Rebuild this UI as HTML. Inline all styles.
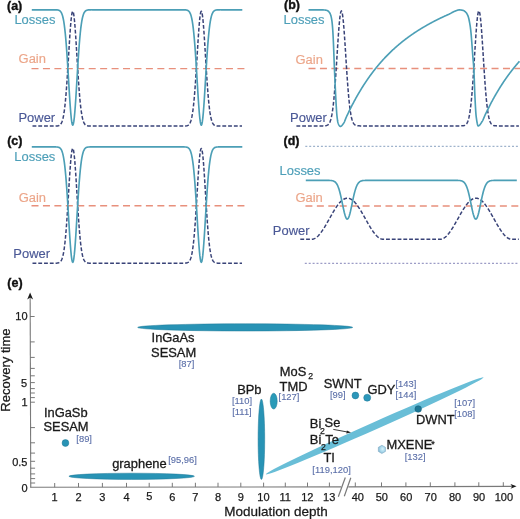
<!DOCTYPE html>
<html><head><meta charset="utf-8"><title>Figure</title>
<style>html,body{margin:0;padding:0;background:#fff;}svg{display:block;}</style>
</head><body>
<svg width="520" height="519" viewBox="0 0 520 519">
<rect width="520" height="519" fill="#fff"/>
<g fill="none" stroke-linejoin="round">
<line x1="31.5" y1="68.6" x2="244.6" y2="68.6" stroke="#e8907c" stroke-width="1.35" stroke-dasharray="7 4.44"/>
<line x1="31.5" y1="205.7" x2="244.6" y2="205.7" stroke="#e8907c" stroke-width="1.35" stroke-dasharray="7 4.44"/>
<line x1="308.5" y1="68.5" x2="520.0" y2="68.5" stroke="#e8907c" stroke-width="1.35" stroke-dasharray="7 4.44"/>
<line x1="305.4" y1="206.0" x2="520.0" y2="206.0" stroke="#e8907c" stroke-width="1.35" stroke-dasharray="7 4.44"/>
<path d="M32.50,126.10 L33.00,126.10 L33.50,126.10 L34.00,126.10 L34.50,126.10 L35.00,126.10 L35.50,126.10 L36.00,126.10 L36.50,126.10 L37.00,126.10 L37.50,126.10 L38.00,126.10 L38.50,126.10 L39.00,126.10 L39.50,126.10 L40.00,126.10 L40.50,126.10 L41.00,126.10 L41.50,126.10 L42.00,126.10 L42.50,126.10 L43.00,126.10 L43.50,126.10 L44.00,126.10 L44.50,126.10 L45.00,126.10 L45.50,126.10 L46.00,126.10 L46.50,126.10 L47.00,126.10 L47.50,126.10 L48.00,126.10 L48.50,126.10 L49.00,126.10 L49.50,126.10 L50.00,126.10 L50.50,126.10 L51.00,126.10 L51.50,126.10 L52.00,126.10 L52.50,126.10 L53.00,126.10 L53.50,126.10 L54.00,126.09 L54.50,126.09 L55.00,126.08 L55.50,126.08 L56.00,126.06 L56.50,126.04 L57.00,126.00 L57.50,125.94 L58.00,125.86 L58.50,125.74 L59.00,125.56 L59.50,125.31 L60.00,124.95 L60.50,124.47 L61.00,123.81 L61.50,122.92 L62.00,121.76 L62.50,120.25 L63.00,118.34 L63.50,115.94 L64.00,112.98 L64.50,109.41 L65.00,105.16 L65.50,100.20 L66.00,94.52 L66.50,88.13 L67.00,81.09 L67.50,73.49 L68.00,65.49 L68.50,57.24 L69.00,48.97 L69.50,40.93 L70.00,33.37 L70.50,26.56 L71.00,20.75 L71.50,16.18 L72.00,13.02 L72.50,11.40 L73.00,11.40 L73.50,13.02 L74.00,16.18 L74.50,20.75 L75.00,26.56 L75.50,33.37 L76.00,40.93 L76.50,48.97 L77.00,57.24 L77.50,65.49 L78.00,73.49 L78.50,81.09 L79.00,88.13 L79.50,94.52 L80.00,100.20 L80.50,105.16 L81.00,109.41 L81.50,112.98 L82.00,115.94 L82.50,118.34 L83.00,120.25 L83.50,121.76 L84.00,122.92 L84.50,123.81 L85.00,124.47 L85.50,124.95 L86.00,125.31 L86.50,125.56 L87.00,125.74 L87.50,125.86 L88.00,125.94 L88.50,126.00 L89.00,126.04 L89.50,126.06 L90.00,126.08 L90.50,126.08 L91.00,126.09 L91.50,126.09 L92.00,126.10 L92.50,126.10 L93.00,126.10 L93.50,126.10 L94.00,126.10 L94.50,126.10 L95.00,126.10 L95.50,126.10 L96.00,126.10 L96.50,126.10 L97.00,126.10 L97.50,126.10 L98.00,126.10 L98.50,126.10 L99.00,126.10 L99.50,126.10 L100.00,126.10 L100.50,126.10 L101.00,126.10 L101.50,126.10 L102.00,126.10 L102.50,126.10 L103.00,126.10 L103.50,126.10 L104.00,126.10 L104.50,126.10 L105.00,126.10 L105.50,126.10 L106.00,126.10 L106.50,126.10 L107.00,126.10 L107.50,126.10 L108.00,126.10 L108.50,126.10 L109.00,126.10 L109.50,126.10 L110.00,126.10 L110.50,126.10 L111.00,126.10 L111.50,126.10 L112.00,126.10 L112.50,126.10 L113.00,126.10 L113.50,126.10 L114.00,126.10 L114.50,126.10 L115.00,126.10 L115.50,126.10 L116.00,126.10 L116.50,126.10 L117.00,126.10 L117.50,126.10 L118.00,126.10 L118.50,126.10 L119.00,126.10 L119.50,126.10 L120.00,126.10 L120.50,126.10 L121.00,126.10 L121.50,126.10 L122.00,126.10 L122.50,126.10 L123.00,126.10 L123.50,126.10 L124.00,126.10 L124.50,126.10 L125.00,126.10 L125.50,126.10 L126.00,126.10 L126.50,126.10 L127.00,126.10 L127.50,126.10 L128.00,126.10 L128.50,126.10 L129.00,126.10 L129.50,126.10 L130.00,126.10 L130.50,126.10 L131.00,126.10 L131.50,126.10 L132.00,126.10 L132.50,126.10 L133.00,126.10 L133.50,126.10 L134.00,126.10 L134.50,126.10 L135.00,126.10 L135.50,126.10 L136.00,126.10 L136.50,126.10 L137.00,126.10 L137.50,126.10 L138.00,126.10 L138.50,126.10 L139.00,126.10 L139.50,126.10 L140.00,126.10 L140.50,126.10 L141.00,126.10 L141.50,126.10 L142.00,126.10 L142.50,126.10 L143.00,126.10 L143.50,126.10 L144.00,126.10 L144.50,126.10 L145.00,126.10 L145.50,126.10 L146.00,126.10 L146.50,126.10 L147.00,126.10 L147.50,126.10 L148.00,126.10 L148.50,126.10 L149.00,126.10 L149.50,126.10 L150.00,126.10 L150.50,126.10 L151.00,126.10 L151.50,126.10 L152.00,126.10 L152.50,126.10 L153.00,126.10 L153.50,126.10 L154.00,126.10 L154.50,126.10 L155.00,126.10 L155.50,126.10 L156.00,126.10 L156.50,126.10 L157.00,126.10 L157.50,126.10 L158.00,126.10 L158.50,126.10 L159.00,126.10 L159.50,126.10 L160.00,126.10 L160.50,126.10 L161.00,126.10 L161.50,126.10 L162.00,126.10 L162.50,126.10 L163.00,126.10 L163.50,126.10 L164.00,126.10 L164.50,126.10 L165.00,126.10 L165.50,126.10 L166.00,126.10 L166.50,126.10 L167.00,126.10 L167.50,126.10 L168.00,126.10 L168.50,126.10 L169.00,126.10 L169.50,126.10 L170.00,126.10 L170.50,126.10 L171.00,126.10 L171.50,126.10 L172.00,126.10 L172.50,126.10 L173.00,126.10 L173.50,126.10 L174.00,126.10 L174.50,126.10 L175.00,126.10 L175.50,126.10 L176.00,126.10 L176.50,126.10 L177.00,126.10 L177.50,126.10 L178.00,126.10 L178.50,126.10 L179.00,126.10 L179.50,126.10 L180.00,126.10 L180.50,126.10 L181.00,126.10 L181.50,126.10 L182.00,126.10 L182.50,126.09 L183.00,126.09 L183.50,126.09 L184.00,126.08 L184.50,126.06 L185.00,126.04 L185.50,126.00 L186.00,125.95 L186.50,125.87 L187.00,125.75 L187.50,125.58 L188.00,125.34 L188.50,124.99 L189.00,124.52 L189.50,123.88 L190.00,123.02 L190.50,121.89 L191.00,120.42 L191.50,118.55 L192.00,116.20 L192.50,113.31 L193.00,109.80 L193.50,105.62 L194.00,100.73 L194.50,95.12 L195.00,88.80 L195.50,81.82 L196.00,74.28 L196.50,66.30 L197.00,58.07 L197.50,49.79 L198.00,41.72 L198.50,34.10 L199.00,27.20 L199.50,21.28 L200.00,16.57 L200.50,13.27 L201.00,11.49 L201.50,11.33 L202.00,12.78 L202.50,15.80 L203.00,20.24 L203.50,25.93 L204.00,32.65 L204.50,40.15 L205.00,48.15 L205.50,56.41 L206.00,64.67 L206.50,72.71 L207.00,80.35 L207.50,87.45 L208.00,93.91 L208.50,99.67 L209.00,104.70 L209.50,109.02 L210.00,112.65 L210.50,115.67 L211.00,118.12 L211.50,120.08 L212.00,121.62 L212.50,122.82 L213.00,123.73 L213.50,124.41 L214.00,124.91 L214.50,125.28 L215.00,125.54 L215.50,125.72 L216.00,125.85 L216.50,125.94 L217.00,125.99 L217.50,126.03 L218.00,126.06 L218.50,126.07 L219.00,126.08 L219.50,126.09 L220.00,126.09 L220.50,126.10 L221.00,126.10 L221.50,126.10 L222.00,126.10 L222.50,126.10 L223.00,126.10 L223.50,126.10 L224.00,126.10 L224.50,126.10 L225.00,126.10 L225.50,126.10 L226.00,126.10 L226.50,126.10 L227.00,126.10 L227.50,126.10 L228.00,126.10 L228.50,126.10 L229.00,126.10 L229.50,126.10 L230.00,126.10 L230.50,126.10 L231.00,126.10 L231.50,126.10 L232.00,126.10 L232.50,126.10 L233.00,126.10 L233.50,126.10 L234.00,126.10 L234.50,126.10 L235.00,126.10 L235.50,126.10 L236.00,126.10 L236.50,126.10 L237.00,126.10 L237.50,126.10 L238.00,126.10 L238.50,126.10 L239.00,126.10 L239.50,126.10 L240.00,126.10 L240.50,126.10 L241.00,126.10 L241.50,126.10 L242.00,126.10" stroke="#394378" stroke-width="1.5" stroke-dasharray="3.85 1.92"/>
<path d="M32.50,263.20 L33.00,263.20 L33.50,263.20 L34.00,263.20 L34.50,263.20 L35.00,263.20 L35.50,263.20 L36.00,263.20 L36.50,263.20 L37.00,263.20 L37.50,263.20 L38.00,263.20 L38.50,263.20 L39.00,263.20 L39.50,263.20 L40.00,263.20 L40.50,263.20 L41.00,263.20 L41.50,263.20 L42.00,263.20 L42.50,263.20 L43.00,263.20 L43.50,263.20 L44.00,263.20 L44.50,263.20 L45.00,263.20 L45.50,263.20 L46.00,263.20 L46.50,263.20 L47.00,263.20 L47.50,263.20 L48.00,263.20 L48.50,263.20 L49.00,263.20 L49.50,263.20 L50.00,263.20 L50.50,263.20 L51.00,263.20 L51.50,263.20 L52.00,263.20 L52.50,263.20 L53.00,263.20 L53.50,263.20 L54.00,263.19 L54.50,263.19 L55.00,263.18 L55.50,263.18 L56.00,263.16 L56.50,263.14 L57.00,263.10 L57.50,263.04 L58.00,262.96 L58.50,262.84 L59.00,262.66 L59.50,262.41 L60.00,262.05 L60.50,261.57 L61.00,260.91 L61.50,260.02 L62.00,258.86 L62.50,257.35 L63.00,255.44 L63.50,253.04 L64.00,250.08 L64.50,246.51 L65.00,242.26 L65.50,237.30 L66.00,231.62 L66.50,225.23 L67.00,218.19 L67.50,210.59 L68.00,202.59 L68.50,194.34 L69.00,186.07 L69.50,178.03 L70.00,170.47 L70.50,163.66 L71.00,157.85 L71.50,153.28 L72.00,150.12 L72.50,148.50 L73.00,148.50 L73.50,150.12 L74.00,153.28 L74.50,157.85 L75.00,163.66 L75.50,170.47 L76.00,178.03 L76.50,186.07 L77.00,194.34 L77.50,202.59 L78.00,210.59 L78.50,218.19 L79.00,225.23 L79.50,231.62 L80.00,237.30 L80.50,242.26 L81.00,246.51 L81.50,250.08 L82.00,253.04 L82.50,255.44 L83.00,257.35 L83.50,258.86 L84.00,260.02 L84.50,260.91 L85.00,261.57 L85.50,262.05 L86.00,262.41 L86.50,262.66 L87.00,262.84 L87.50,262.96 L88.00,263.04 L88.50,263.10 L89.00,263.14 L89.50,263.16 L90.00,263.18 L90.50,263.18 L91.00,263.19 L91.50,263.19 L92.00,263.20 L92.50,263.20 L93.00,263.20 L93.50,263.20 L94.00,263.20 L94.50,263.20 L95.00,263.20 L95.50,263.20 L96.00,263.20 L96.50,263.20 L97.00,263.20 L97.50,263.20 L98.00,263.20 L98.50,263.20 L99.00,263.20 L99.50,263.20 L100.00,263.20 L100.50,263.20 L101.00,263.20 L101.50,263.20 L102.00,263.20 L102.50,263.20 L103.00,263.20 L103.50,263.20 L104.00,263.20 L104.50,263.20 L105.00,263.20 L105.50,263.20 L106.00,263.20 L106.50,263.20 L107.00,263.20 L107.50,263.20 L108.00,263.20 L108.50,263.20 L109.00,263.20 L109.50,263.20 L110.00,263.20 L110.50,263.20 L111.00,263.20 L111.50,263.20 L112.00,263.20 L112.50,263.20 L113.00,263.20 L113.50,263.20 L114.00,263.20 L114.50,263.20 L115.00,263.20 L115.50,263.20 L116.00,263.20 L116.50,263.20 L117.00,263.20 L117.50,263.20 L118.00,263.20 L118.50,263.20 L119.00,263.20 L119.50,263.20 L120.00,263.20 L120.50,263.20 L121.00,263.20 L121.50,263.20 L122.00,263.20 L122.50,263.20 L123.00,263.20 L123.50,263.20 L124.00,263.20 L124.50,263.20 L125.00,263.20 L125.50,263.20 L126.00,263.20 L126.50,263.20 L127.00,263.20 L127.50,263.20 L128.00,263.20 L128.50,263.20 L129.00,263.20 L129.50,263.20 L130.00,263.20 L130.50,263.20 L131.00,263.20 L131.50,263.20 L132.00,263.20 L132.50,263.20 L133.00,263.20 L133.50,263.20 L134.00,263.20 L134.50,263.20 L135.00,263.20 L135.50,263.20 L136.00,263.20 L136.50,263.20 L137.00,263.20 L137.50,263.20 L138.00,263.20 L138.50,263.20 L139.00,263.20 L139.50,263.20 L140.00,263.20 L140.50,263.20 L141.00,263.20 L141.50,263.20 L142.00,263.20 L142.50,263.20 L143.00,263.20 L143.50,263.20 L144.00,263.20 L144.50,263.20 L145.00,263.20 L145.50,263.20 L146.00,263.20 L146.50,263.20 L147.00,263.20 L147.50,263.20 L148.00,263.20 L148.50,263.20 L149.00,263.20 L149.50,263.20 L150.00,263.20 L150.50,263.20 L151.00,263.20 L151.50,263.20 L152.00,263.20 L152.50,263.20 L153.00,263.20 L153.50,263.20 L154.00,263.20 L154.50,263.20 L155.00,263.20 L155.50,263.20 L156.00,263.20 L156.50,263.20 L157.00,263.20 L157.50,263.20 L158.00,263.20 L158.50,263.20 L159.00,263.20 L159.50,263.20 L160.00,263.20 L160.50,263.20 L161.00,263.20 L161.50,263.20 L162.00,263.20 L162.50,263.20 L163.00,263.20 L163.50,263.20 L164.00,263.20 L164.50,263.20 L165.00,263.20 L165.50,263.20 L166.00,263.20 L166.50,263.20 L167.00,263.20 L167.50,263.20 L168.00,263.20 L168.50,263.20 L169.00,263.20 L169.50,263.20 L170.00,263.20 L170.50,263.20 L171.00,263.20 L171.50,263.20 L172.00,263.20 L172.50,263.20 L173.00,263.20 L173.50,263.20 L174.00,263.20 L174.50,263.20 L175.00,263.20 L175.50,263.20 L176.00,263.20 L176.50,263.20 L177.00,263.20 L177.50,263.20 L178.00,263.20 L178.50,263.20 L179.00,263.20 L179.50,263.20 L180.00,263.20 L180.50,263.20 L181.00,263.20 L181.50,263.20 L182.00,263.20 L182.50,263.19 L183.00,263.19 L183.50,263.19 L184.00,263.18 L184.50,263.16 L185.00,263.14 L185.50,263.10 L186.00,263.05 L186.50,262.97 L187.00,262.85 L187.50,262.68 L188.00,262.44 L188.50,262.09 L189.00,261.62 L189.50,260.98 L190.00,260.12 L190.50,258.99 L191.00,257.52 L191.50,255.65 L192.00,253.30 L192.50,250.41 L193.00,246.90 L193.50,242.72 L194.00,237.83 L194.50,232.22 L195.00,225.90 L195.50,218.92 L196.00,211.38 L196.50,203.40 L197.00,195.17 L197.50,186.89 L198.00,178.82 L198.50,171.20 L199.00,164.30 L199.50,158.38 L200.00,153.67 L200.50,150.37 L201.00,148.59 L201.50,148.43 L202.00,149.88 L202.50,152.90 L203.00,157.34 L203.50,163.03 L204.00,169.75 L204.50,177.25 L205.00,185.25 L205.50,193.51 L206.00,201.77 L206.50,209.81 L207.00,217.45 L207.50,224.55 L208.00,231.01 L208.50,236.77 L209.00,241.80 L209.50,246.12 L210.00,249.75 L210.50,252.77 L211.00,255.22 L211.50,257.18 L212.00,258.72 L212.50,259.92 L213.00,260.83 L213.50,261.51 L214.00,262.01 L214.50,262.38 L215.00,262.64 L215.50,262.82 L216.00,262.95 L216.50,263.04 L217.00,263.09 L217.50,263.13 L218.00,263.16 L218.50,263.17 L219.00,263.18 L219.50,263.19 L220.00,263.19 L220.50,263.20 L221.00,263.20 L221.50,263.20 L222.00,263.20 L222.50,263.20 L223.00,263.20 L223.50,263.20 L224.00,263.20 L224.50,263.20 L225.00,263.20 L225.50,263.20 L226.00,263.20 L226.50,263.20 L227.00,263.20 L227.50,263.20 L228.00,263.20 L228.50,263.20 L229.00,263.20 L229.50,263.20 L230.00,263.20 L230.50,263.20 L231.00,263.20 L231.50,263.20 L232.00,263.20 L232.50,263.20 L233.00,263.20 L233.50,263.20 L234.00,263.20 L234.50,263.20 L235.00,263.20 L235.50,263.20 L236.00,263.20 L236.50,263.20 L237.00,263.20 L237.50,263.20 L238.00,263.20 L238.50,263.20 L239.00,263.20 L239.50,263.20 L240.00,263.20 L240.50,263.20 L241.00,263.20 L241.50,263.20 L242.00,263.20" stroke="#394378" stroke-width="1.5" stroke-dasharray="3.85 1.92"/>
<path d="M296.40,125.90 L296.90,125.90 L297.40,125.90 L297.90,125.90 L298.40,125.90 L298.90,125.90 L299.40,125.90 L299.90,125.90 L300.40,125.90 L300.90,125.90 L301.40,125.90 L301.90,125.90 L302.40,125.90 L302.90,125.90 L303.40,125.90 L303.90,125.90 L304.40,125.90 L304.90,125.90 L305.40,125.90 L305.90,125.90 L306.40,125.90 L306.90,125.90 L307.40,125.90 L307.90,125.90 L308.40,125.90 L308.90,125.90 L309.40,125.90 L309.90,125.90 L310.40,125.90 L310.90,125.90 L311.40,125.90 L311.90,125.90 L312.40,125.90 L312.90,125.90 L313.40,125.90 L313.90,125.90 L314.40,125.90 L314.90,125.90 L315.40,125.90 L315.90,125.90 L316.40,125.90 L316.90,125.90 L317.40,125.90 L317.90,125.90 L318.40,125.90 L318.90,125.90 L319.40,125.90 L319.90,125.90 L320.40,125.90 L320.90,125.90 L321.40,125.90 L321.90,125.89 L322.40,125.89 L322.90,125.88 L323.40,125.87 L323.90,125.86 L324.40,125.83 L324.90,125.80 L325.40,125.75 L325.90,125.67 L326.40,125.56 L326.90,125.40 L327.40,125.17 L327.90,124.86 L328.40,124.44 L328.90,123.87 L329.40,123.11 L329.90,122.12 L330.40,120.85 L330.90,119.23 L331.40,117.21 L331.90,114.72 L332.40,111.70 L332.90,108.10 L333.40,103.88 L333.90,99.00 L334.40,93.46 L334.90,87.28 L335.40,80.52 L335.90,73.25 L336.40,65.60 L336.90,57.73 L337.40,49.83 L337.90,42.09 L338.40,34.75 L338.90,28.04 L339.40,22.19 L339.90,17.39 L340.40,13.83 L340.90,11.64 L341.40,10.90 L341.90,11.64 L342.40,13.83 L342.90,17.39 L343.40,22.19 L343.90,28.04 L344.40,34.75 L344.90,42.09 L345.40,49.83 L345.90,57.73 L346.40,65.60 L346.90,73.25 L347.40,80.52 L347.90,87.28 L348.40,93.46 L348.90,99.00 L349.40,103.88 L349.90,108.10 L350.40,111.70 L350.90,114.72 L351.40,117.21 L351.90,119.23 L352.40,120.85 L352.90,122.12 L353.40,123.11 L353.90,123.87 L354.40,124.44 L354.90,124.86 L355.40,125.17 L355.90,125.40 L356.40,125.56 L356.90,125.67 L357.40,125.75 L357.90,125.80 L358.40,125.83 L358.90,125.86 L359.40,125.87 L359.90,125.88 L360.40,125.89 L360.90,125.89 L361.40,125.90 L361.90,125.90 L362.40,125.90 L362.90,125.90 L363.40,125.90 L363.90,125.90 L364.40,125.90 L364.90,125.90 L365.40,125.90 L365.90,125.90 L366.40,125.90 L366.90,125.90 L367.40,125.90 L367.90,125.90 L368.40,125.90 L368.90,125.90 L369.40,125.90 L369.90,125.90 L370.40,125.90 L370.90,125.90 L371.40,125.90 L371.90,125.90 L372.40,125.90 L372.90,125.90 L373.40,125.90 L373.90,125.90 L374.40,125.90 L374.90,125.90 L375.40,125.90 L375.90,125.90 L376.40,125.90 L376.90,125.90 L377.40,125.90 L377.90,125.90 L378.40,125.90 L378.90,125.90 L379.40,125.90 L379.90,125.90 L380.40,125.90 L380.90,125.90 L381.40,125.90 L381.90,125.90 L382.40,125.90 L382.90,125.90 L383.40,125.90 L383.90,125.90 L384.40,125.90 L384.90,125.90 L385.40,125.90 L385.90,125.90 L386.40,125.90 L386.90,125.90 L387.40,125.90 L387.90,125.90 L388.40,125.90 L388.90,125.90 L389.40,125.90 L389.90,125.90 L390.40,125.90 L390.90,125.90 L391.40,125.90 L391.90,125.90 L392.40,125.90 L392.90,125.90 L393.40,125.90 L393.90,125.90 L394.40,125.90 L394.90,125.90 L395.40,125.90 L395.90,125.90 L396.40,125.90 L396.90,125.90 L397.40,125.90 L397.90,125.90 L398.40,125.90 L398.90,125.90 L399.40,125.90 L399.90,125.90 L400.40,125.90 L400.90,125.90 L401.40,125.90 L401.90,125.90 L402.40,125.90 L402.90,125.90 L403.40,125.90 L403.90,125.90 L404.40,125.90 L404.90,125.90 L405.40,125.90 L405.90,125.90 L406.40,125.90 L406.90,125.90 L407.40,125.90 L407.90,125.90 L408.40,125.90 L408.90,125.90 L409.40,125.90 L409.90,125.90 L410.40,125.90 L410.90,125.90 L411.40,125.90 L411.90,125.90 L412.40,125.90 L412.90,125.90 L413.40,125.90 L413.90,125.90 L414.40,125.90 L414.90,125.90 L415.40,125.90 L415.90,125.90 L416.40,125.90 L416.90,125.90 L417.40,125.90 L417.90,125.90 L418.40,125.90 L418.90,125.90 L419.40,125.90 L419.90,125.90 L420.40,125.90 L420.90,125.90 L421.40,125.90 L421.90,125.90 L422.40,125.90 L422.90,125.90 L423.40,125.90 L423.90,125.90 L424.40,125.90 L424.90,125.90 L425.40,125.90 L425.90,125.90 L426.40,125.90 L426.90,125.90 L427.40,125.90 L427.90,125.90 L428.40,125.90 L428.90,125.90 L429.40,125.90 L429.90,125.90 L430.40,125.90 L430.90,125.90 L431.40,125.90 L431.90,125.90 L432.40,125.90 L432.90,125.90 L433.40,125.90 L433.90,125.90 L434.40,125.90 L434.90,125.90 L435.40,125.90 L435.90,125.90 L436.40,125.90 L436.90,125.90 L437.40,125.90 L437.90,125.90 L438.40,125.90 L438.90,125.90 L439.40,125.90 L439.90,125.90 L440.40,125.90 L440.90,125.90 L441.40,125.90 L441.90,125.90 L442.40,125.90 L442.90,125.90 L443.40,125.90 L443.90,125.90 L444.40,125.90 L444.90,125.90 L445.40,125.90 L445.90,125.90 L446.40,125.90 L446.90,125.90 L447.40,125.90 L447.90,125.90 L448.40,125.90 L448.90,125.90 L449.40,125.90 L449.90,125.90 L450.40,125.90 L450.90,125.90 L451.40,125.90 L451.90,125.90 L452.40,125.90 L452.90,125.90 L453.40,125.90 L453.90,125.90 L454.40,125.90 L454.90,125.90 L455.40,125.90 L455.90,125.90 L456.40,125.90 L456.90,125.90 L457.40,125.90 L457.90,125.90 L458.40,125.90 L458.90,125.90 L459.40,125.90 L459.90,125.89 L460.40,125.89 L460.90,125.88 L461.40,125.86 L461.90,125.84 L462.40,125.81 L462.90,125.77 L463.40,125.70 L463.90,125.60 L464.40,125.46 L464.90,125.25 L465.40,124.97 L465.90,124.58 L466.40,124.05 L466.90,123.34 L467.40,122.41 L467.90,121.20 L468.40,119.66 L468.90,117.71 L469.40,115.31 L469.90,112.37 L470.40,108.86 L470.90,104.70 L471.40,99.89 L471.90,94.39 L472.40,88.24 L472.90,81.48 L473.40,74.19 L473.90,66.50 L474.40,58.55 L474.90,50.55 L475.40,42.70 L475.90,35.24 L476.40,28.41 L476.90,22.43 L477.40,17.54 L477.90,13.90 L478.40,11.66 L478.90,10.90 L479.40,11.66 L479.90,13.90 L480.40,17.54 L480.90,22.43 L481.40,28.41 L481.90,35.24 L482.40,42.70 L482.90,50.55 L483.40,58.55 L483.90,66.50 L484.40,74.19 L484.90,81.48 L485.40,88.24 L485.90,94.39 L486.40,99.89 L486.90,104.70 L487.40,108.86 L487.90,112.37 L488.40,115.31 L488.90,117.71 L489.40,119.66 L489.90,121.20 L490.40,122.41 L490.90,123.34 L491.40,124.05 L491.90,124.58 L492.40,124.97 L492.90,125.25 L493.40,125.46 L493.90,125.60 L494.40,125.70 L494.90,125.77 L495.40,125.81 L495.90,125.84 L496.40,125.86 L496.90,125.88 L497.40,125.89 L497.90,125.89 L498.40,125.90 L498.90,125.90 L499.40,125.90 L499.90,125.90 L500.40,125.90 L500.90,125.90 L501.40,125.90 L501.90,125.90 L502.40,125.90 L502.90,125.90 L503.40,125.90 L503.90,125.90 L504.40,125.90 L504.90,125.90 L505.40,125.90 L505.90,125.90 L506.40,125.90 L506.90,125.90 L507.40,125.90 L507.90,125.90 L508.40,125.90 L508.90,125.90 L509.40,125.90 L509.90,125.90 L510.40,125.90 L510.90,125.90 L511.40,125.90 L511.90,125.90 L512.40,125.90 L512.90,125.90 L513.40,125.90 L513.90,125.90 L514.40,125.90 L514.90,125.90 L515.40,125.90 L515.90,125.90 L516.40,125.90 L516.90,125.90 L517.40,125.90 L517.90,125.90 L518.40,125.90 L518.90,125.90" stroke="#394378" stroke-width="1.5" stroke-dasharray="3.85 1.92"/>
<path d="M300.30,239.30 L300.80,239.30 L301.30,239.30 L301.80,239.30 L302.30,239.30 L302.80,239.30 L303.30,239.30 L303.80,239.30 L304.30,239.30 L304.80,239.30 L305.30,239.30 L305.80,239.30 L306.30,239.30 L306.80,239.30 L307.30,239.30 L307.80,239.30 L308.30,239.30 L308.80,239.30 L309.30,239.30 L309.80,239.30 L310.30,239.30 L310.80,239.30 L311.30,239.30 L311.80,239.29 L312.30,239.24 L312.80,239.15 L313.30,239.02 L313.80,238.85 L314.30,238.65 L314.80,238.40 L315.30,238.12 L315.80,237.80 L316.30,237.45 L316.80,237.06 L317.30,236.64 L317.80,236.18 L318.30,235.69 L318.80,235.16 L319.30,234.61 L319.80,234.02 L320.30,233.41 L320.80,232.77 L321.30,232.10 L321.80,231.40 L322.30,230.68 L322.80,229.94 L323.30,229.18 L323.80,228.40 L324.30,227.60 L324.80,226.78 L325.30,225.95 L325.80,225.10 L326.30,224.24 L326.80,223.37 L327.30,222.49 L327.80,221.61 L328.30,220.72 L328.80,219.83 L329.30,218.93 L329.80,218.03 L330.30,217.14 L330.80,216.25 L331.30,215.36 L331.80,214.48 L332.30,213.60 L332.80,212.74 L333.30,211.89 L333.80,211.05 L334.30,210.23 L334.80,209.42 L335.30,208.63 L335.80,207.86 L336.30,207.11 L336.80,206.38 L337.30,205.68 L337.80,205.00 L338.30,204.35 L338.80,203.72 L339.30,203.12 L339.80,202.56 L340.30,202.02 L340.80,201.52 L341.30,201.04 L341.80,200.61 L342.30,200.20 L342.80,199.83 L343.30,199.50 L343.80,199.21 L344.30,198.95 L344.80,198.73 L345.30,198.54 L345.80,198.40 L346.30,198.29 L346.80,198.23 L347.30,198.20 L347.80,198.21 L348.30,198.26 L348.80,198.35 L349.30,198.48 L349.80,198.65 L350.30,198.85 L350.80,199.10 L351.30,199.38 L351.80,199.70 L352.30,200.05 L352.80,200.44 L353.30,200.86 L353.80,201.32 L354.30,201.81 L354.80,202.34 L355.30,202.89 L355.80,203.48 L356.30,204.09 L356.80,204.73 L357.30,205.40 L357.80,206.10 L358.30,206.82 L358.80,207.56 L359.30,208.32 L359.80,209.10 L360.30,209.90 L360.80,210.72 L361.30,211.55 L361.80,212.40 L362.30,213.26 L362.80,214.13 L363.30,215.01 L363.80,215.89 L364.30,216.78 L364.80,217.67 L365.30,218.57 L365.80,219.47 L366.30,220.36 L366.80,221.25 L367.30,222.14 L367.80,223.02 L368.30,223.90 L368.80,224.76 L369.30,225.61 L369.80,226.45 L370.30,227.27 L370.80,228.08 L371.30,228.87 L371.80,229.64 L372.30,230.39 L372.80,231.12 L373.30,231.82 L373.80,232.50 L374.30,233.15 L374.80,233.78 L375.30,234.38 L375.80,234.94 L376.30,235.48 L376.80,235.98 L377.30,236.46 L377.80,236.89 L378.30,237.30 L378.80,237.67 L379.30,238.00 L379.80,238.29 L380.30,238.55 L380.80,238.77 L381.30,238.96 L381.80,239.10 L382.30,239.21 L382.80,239.27 L383.30,239.30 L383.80,239.30 L384.30,239.30 L384.80,239.30 L385.30,239.30 L385.80,239.30 L386.30,239.30 L386.80,239.30 L387.30,239.30 L387.80,239.30 L388.30,239.30 L388.80,239.30 L389.30,239.30 L389.80,239.30 L390.30,239.30 L390.80,239.30 L391.30,239.30 L391.80,239.30 L392.30,239.30 L392.80,239.30 L393.30,239.30 L393.80,239.30 L394.30,239.30 L394.80,239.30 L395.30,239.30 L395.80,239.30 L396.30,239.30 L396.80,239.30 L397.30,239.30 L397.80,239.30 L398.30,239.30 L398.80,239.30 L399.30,239.30 L399.80,239.30 L400.30,239.30 L400.80,239.30 L401.30,239.30 L401.80,239.30 L402.30,239.30 L402.80,239.30 L403.30,239.30 L403.80,239.30 L404.30,239.30 L404.80,239.30 L405.30,239.30 L405.80,239.30 L406.30,239.30 L406.80,239.30 L407.30,239.30 L407.80,239.30 L408.30,239.30 L408.80,239.30 L409.30,239.30 L409.80,239.30 L410.30,239.30 L410.80,239.30 L411.30,239.30 L411.80,239.30 L412.30,239.30 L412.80,239.30 L413.30,239.30 L413.80,239.30 L414.30,239.30 L414.80,239.30 L415.30,239.30 L415.80,239.30 L416.30,239.30 L416.80,239.30 L417.30,239.30 L417.80,239.30 L418.30,239.30 L418.80,239.30 L419.30,239.30 L419.80,239.30 L420.30,239.30 L420.80,239.30 L421.30,239.30 L421.80,239.30 L422.30,239.30 L422.80,239.30 L423.30,239.30 L423.80,239.30 L424.30,239.30 L424.80,239.30 L425.30,239.30 L425.80,239.30 L426.30,239.30 L426.80,239.30 L427.30,239.30 L427.80,239.30 L428.30,239.30 L428.80,239.30 L429.30,239.30 L429.80,239.30 L430.30,239.30 L430.80,239.30 L431.30,239.30 L431.80,239.30 L432.30,239.30 L432.80,239.30 L433.30,239.30 L433.80,239.30 L434.30,239.30 L434.80,239.30 L435.30,239.30 L435.80,239.30 L436.30,239.30 L436.80,239.30 L437.30,239.30 L437.80,239.30 L438.30,239.30 L438.80,239.30 L439.30,239.30 L439.80,239.30 L440.30,239.29 L440.80,239.24 L441.30,239.15 L441.80,239.02 L442.30,238.85 L442.80,238.65 L443.30,238.40 L443.80,238.12 L444.30,237.80 L444.80,237.45 L445.30,237.06 L445.80,236.64 L446.30,236.18 L446.80,235.69 L447.30,235.16 L447.80,234.61 L448.30,234.02 L448.80,233.41 L449.30,232.77 L449.80,232.10 L450.30,231.40 L450.80,230.68 L451.30,229.94 L451.80,229.18 L452.30,228.40 L452.80,227.60 L453.30,226.78 L453.80,225.95 L454.30,225.10 L454.80,224.24 L455.30,223.37 L455.80,222.49 L456.30,221.61 L456.80,220.72 L457.30,219.83 L457.80,218.93 L458.30,218.03 L458.80,217.14 L459.30,216.25 L459.80,215.36 L460.30,214.48 L460.80,213.60 L461.30,212.74 L461.80,211.89 L462.30,211.05 L462.80,210.23 L463.30,209.42 L463.80,208.63 L464.30,207.86 L464.80,207.11 L465.30,206.38 L465.80,205.68 L466.30,205.00 L466.80,204.35 L467.30,203.72 L467.80,203.12 L468.30,202.56 L468.80,202.02 L469.30,201.52 L469.80,201.04 L470.30,200.61 L470.80,200.20 L471.30,199.83 L471.80,199.50 L472.30,199.21 L472.80,198.95 L473.30,198.73 L473.80,198.54 L474.30,198.40 L474.80,198.29 L475.30,198.23 L475.80,198.20 L476.30,198.21 L476.80,198.26 L477.30,198.35 L477.80,198.48 L478.30,198.65 L478.80,198.85 L479.30,199.10 L479.80,199.38 L480.30,199.70 L480.80,200.05 L481.30,200.44 L481.80,200.86 L482.30,201.32 L482.80,201.81 L483.30,202.34 L483.80,202.89 L484.30,203.48 L484.80,204.09 L485.30,204.73 L485.80,205.40 L486.30,206.10 L486.80,206.82 L487.30,207.56 L487.80,208.32 L488.30,209.10 L488.80,209.90 L489.30,210.72 L489.80,211.55 L490.30,212.40 L490.80,213.26 L491.30,214.13 L491.80,215.01 L492.30,215.89 L492.80,216.78 L493.30,217.67 L493.80,218.57 L494.30,219.47 L494.80,220.36 L495.30,221.25 L495.80,222.14 L496.30,223.02 L496.80,223.90 L497.30,224.76 L497.80,225.61 L498.30,226.45 L498.80,227.27 L499.30,228.08 L499.80,228.87 L500.30,229.64 L500.80,230.39 L501.30,231.12 L501.80,231.82 L502.30,232.50 L502.80,233.15 L503.30,233.78 L503.80,234.38 L504.30,234.94 L504.80,235.48 L505.30,235.98 L505.80,236.46 L506.30,236.89 L506.80,237.30 L507.30,237.67 L507.80,238.00 L508.30,238.29 L508.80,238.55 L509.30,238.77 L509.80,238.96 L510.30,239.10 L510.80,239.21 L511.30,239.27 L511.80,239.30 L512.30,239.30 L512.80,239.30 L513.30,239.30 L513.80,239.30 L514.30,239.30 L514.80,239.30 L515.30,239.30 L515.80,239.30 L516.30,239.30 L516.80,239.30 L517.30,239.30 L517.80,239.30 L518.30,239.30 L518.80,239.30" stroke="#394378" stroke-width="1.5" stroke-dasharray="3.85 1.92"/>
<path d="M31.80,9.80 L32.30,9.80 L32.80,9.80 L33.30,9.80 L33.80,9.80 L34.30,9.80 L34.80,9.80 L35.30,9.80 L35.80,9.80 L36.30,9.80 L36.80,9.80 L37.30,9.80 L37.80,9.80 L38.30,9.80 L38.80,9.80 L39.30,9.80 L39.80,9.80 L40.30,9.80 L40.80,9.80 L41.30,9.80 L41.80,9.80 L42.30,9.80 L42.80,9.80 L43.30,9.80 L43.80,9.80 L44.30,9.80 L44.80,9.80 L45.30,9.80 L45.80,9.80 L46.30,9.80 L46.80,9.80 L47.30,9.80 L47.80,9.80 L48.30,9.80 L48.80,9.80 L49.30,9.80 L49.80,9.80 L50.30,9.80 L50.80,9.80 L51.30,9.80 L51.80,9.80 L52.30,9.80 L52.80,9.80 L53.30,9.80 L53.80,9.80 L54.30,9.81 L54.80,9.81 L55.30,9.82 L55.80,9.83 L56.30,9.85 L56.80,9.89 L57.30,9.93 L57.80,10.00 L58.30,10.11 L58.80,10.26 L59.30,10.48 L59.80,10.79 L60.30,11.23 L60.80,11.82 L61.30,12.61 L61.80,13.66 L62.30,15.02 L62.80,16.77 L63.30,18.98 L63.80,21.72 L64.30,25.05 L64.80,29.04 L65.30,33.73 L65.80,39.15 L66.30,45.29 L66.80,52.11 L67.30,59.52 L67.80,67.42 L68.30,75.63 L68.80,83.95 L69.30,92.15 L69.80,99.97 L70.30,107.15 L70.80,113.41 L71.30,118.52 L71.80,122.29 L72.30,124.54 L72.80,125.19 L73.30,124.21 L73.80,121.65 L74.30,117.60 L74.80,112.24 L75.30,105.78 L75.80,98.45 L76.30,90.54 L76.80,82.29 L77.30,73.97 L77.80,65.81 L78.30,58.00 L78.80,50.69 L79.30,44.00 L79.80,38.01 L80.30,32.74 L80.80,28.19 L81.30,24.33 L81.80,21.12 L82.30,18.50 L82.80,16.39 L83.30,14.72 L83.80,13.42 L84.30,12.43 L84.80,11.68 L85.30,11.13 L85.80,10.72 L86.30,10.43 L86.80,10.23 L87.30,10.09 L87.80,9.99 L88.30,9.92 L88.80,9.88 L89.30,9.85 L89.80,9.83 L90.30,9.82 L90.80,9.81 L91.30,9.81 L91.80,9.80 L92.30,9.80 L92.80,9.80 L93.30,9.80 L93.80,9.80 L94.30,9.80 L94.80,9.80 L95.30,9.80 L95.80,9.80 L96.30,9.80 L96.80,9.80 L97.30,9.80 L97.80,9.80 L98.30,9.80 L98.80,9.80 L99.30,9.80 L99.80,9.80 L100.30,9.80 L100.80,9.80 L101.30,9.80 L101.80,9.80 L102.30,9.80 L102.80,9.80 L103.30,9.80 L103.80,9.80 L104.30,9.80 L104.80,9.80 L105.30,9.80 L105.80,9.80 L106.30,9.80 L106.80,9.80 L107.30,9.80 L107.80,9.80 L108.30,9.80 L108.80,9.80 L109.30,9.80 L109.80,9.80 L110.30,9.80 L110.80,9.80 L111.30,9.80 L111.80,9.80 L112.30,9.80 L112.80,9.80 L113.30,9.80 L113.80,9.80 L114.30,9.80 L114.80,9.80 L115.30,9.80 L115.80,9.80 L116.30,9.80 L116.80,9.80 L117.30,9.80 L117.80,9.80 L118.30,9.80 L118.80,9.80 L119.30,9.80 L119.80,9.80 L120.30,9.80 L120.80,9.80 L121.30,9.80 L121.80,9.80 L122.30,9.80 L122.80,9.80 L123.30,9.80 L123.80,9.80 L124.30,9.80 L124.80,9.80 L125.30,9.80 L125.80,9.80 L126.30,9.80 L126.80,9.80 L127.30,9.80 L127.80,9.80 L128.30,9.80 L128.80,9.80 L129.30,9.80 L129.80,9.80 L130.30,9.80 L130.80,9.80 L131.30,9.80 L131.80,9.80 L132.30,9.80 L132.80,9.80 L133.30,9.80 L133.80,9.80 L134.30,9.80 L134.80,9.80 L135.30,9.80 L135.80,9.80 L136.30,9.80 L136.80,9.80 L137.30,9.80 L137.80,9.80 L138.30,9.80 L138.80,9.80 L139.30,9.80 L139.80,9.80 L140.30,9.80 L140.80,9.80 L141.30,9.80 L141.80,9.80 L142.30,9.80 L142.80,9.80 L143.30,9.80 L143.80,9.80 L144.30,9.80 L144.80,9.80 L145.30,9.80 L145.80,9.80 L146.30,9.80 L146.80,9.80 L147.30,9.80 L147.80,9.80 L148.30,9.80 L148.80,9.80 L149.30,9.80 L149.80,9.80 L150.30,9.80 L150.80,9.80 L151.30,9.80 L151.80,9.80 L152.30,9.80 L152.80,9.80 L153.30,9.80 L153.80,9.80 L154.30,9.80 L154.80,9.80 L155.30,9.80 L155.80,9.80 L156.30,9.80 L156.80,9.80 L157.30,9.80 L157.80,9.80 L158.30,9.80 L158.80,9.80 L159.30,9.80 L159.80,9.80 L160.30,9.80 L160.80,9.80 L161.30,9.80 L161.80,9.80 L162.30,9.80 L162.80,9.80 L163.30,9.80 L163.80,9.80 L164.30,9.80 L164.80,9.80 L165.30,9.80 L165.80,9.80 L166.30,9.80 L166.80,9.80 L167.30,9.80 L167.80,9.80 L168.30,9.80 L168.80,9.80 L169.30,9.80 L169.80,9.80 L170.30,9.80 L170.80,9.80 L171.30,9.80 L171.80,9.80 L172.30,9.80 L172.80,9.80 L173.30,9.80 L173.80,9.80 L174.30,9.80 L174.80,9.80 L175.30,9.80 L175.80,9.80 L176.30,9.80 L176.80,9.80 L177.30,9.80 L177.80,9.80 L178.30,9.80 L178.80,9.80 L179.30,9.80 L179.80,9.80 L180.30,9.80 L180.80,9.80 L181.30,9.80 L181.80,9.80 L182.30,9.80 L182.80,9.81 L183.30,9.81 L183.80,9.82 L184.30,9.83 L184.80,9.85 L185.30,9.88 L185.80,9.93 L186.30,10.00 L186.80,10.10 L187.30,10.25 L187.80,10.46 L188.30,10.76 L188.80,11.18 L189.30,11.75 L189.80,12.52 L190.30,13.54 L190.80,14.87 L191.30,16.58 L191.80,18.74 L192.30,21.42 L192.80,24.69 L193.30,28.61 L193.80,33.23 L194.30,38.58 L194.80,44.64 L195.30,51.40 L195.80,58.76 L196.30,66.61 L196.80,74.80 L197.30,83.12 L197.80,91.35 L198.30,99.22 L198.80,106.46 L199.30,112.83 L199.80,118.07 L200.30,121.97 L200.80,124.39 L201.30,125.20 L201.80,124.39 L202.30,121.97 L202.80,118.07 L203.30,112.83 L203.80,106.46 L204.30,99.22 L204.80,91.35 L205.30,83.12 L205.80,74.80 L206.30,66.61 L206.80,58.76 L207.30,51.40 L207.80,44.64 L208.30,38.58 L208.80,33.23 L209.30,28.61 L209.80,24.69 L210.30,21.42 L210.80,18.74 L211.30,16.58 L211.80,14.87 L212.30,13.54 L212.80,12.52 L213.30,11.75 L213.80,11.18 L214.30,10.76 L214.80,10.46 L215.30,10.25 L215.80,10.10 L216.30,10.00 L216.80,9.93 L217.30,9.88 L217.80,9.85 L218.30,9.83 L218.80,9.82 L219.30,9.81 L219.80,9.81 L220.30,9.80 L220.80,9.80 L221.30,9.80 L221.80,9.80 L222.30,9.80 L222.80,9.80 L223.30,9.80 L223.80,9.80 L224.30,9.80 L224.80,9.80 L225.30,9.80 L225.80,9.80 L226.30,9.80 L226.80,9.80 L227.30,9.80 L227.80,9.80 L228.30,9.80 L228.80,9.80 L229.30,9.80 L229.80,9.80 L230.30,9.80 L230.80,9.80 L231.30,9.80 L231.80,9.80 L232.30,9.80 L232.80,9.80 L233.30,9.80 L233.80,9.80 L234.30,9.80 L234.80,9.80 L235.30,9.80 L235.80,9.80 L236.30,9.80 L236.80,9.80 L237.30,9.80 L237.80,9.80 L238.30,9.80 L238.80,9.80 L239.30,9.80 L239.80,9.80 L240.30,9.80 L240.80,9.80 L241.30,9.80 L241.80,9.80 L242.30,9.80" stroke="#4c9fb6" stroke-width="1.65"/>
<path d="M31.80,146.90 L32.30,146.90 L32.80,146.90 L33.30,146.90 L33.80,146.90 L34.30,146.90 L34.80,146.90 L35.30,146.90 L35.80,146.90 L36.30,146.90 L36.80,146.90 L37.30,146.90 L37.80,146.90 L38.30,146.90 L38.80,146.90 L39.30,146.90 L39.80,146.90 L40.30,146.90 L40.80,146.90 L41.30,146.90 L41.80,146.90 L42.30,146.90 L42.80,146.90 L43.30,146.90 L43.80,146.90 L44.30,146.90 L44.80,146.90 L45.30,146.90 L45.80,146.90 L46.30,146.90 L46.80,146.90 L47.30,146.90 L47.80,146.90 L48.30,146.90 L48.80,146.90 L49.30,146.90 L49.80,146.90 L50.30,146.90 L50.80,146.90 L51.30,146.90 L51.80,146.90 L52.30,146.90 L52.80,146.90 L53.30,146.90 L53.80,146.90 L54.30,146.91 L54.80,146.91 L55.30,146.92 L55.80,146.93 L56.30,146.95 L56.80,146.99 L57.30,147.03 L57.80,147.10 L58.30,147.21 L58.80,147.36 L59.30,147.58 L59.80,147.89 L60.30,148.33 L60.80,148.92 L61.30,149.71 L61.80,150.76 L62.30,152.12 L62.80,153.87 L63.30,156.08 L63.80,158.82 L64.30,162.15 L64.80,166.14 L65.30,170.83 L65.80,176.25 L66.30,182.39 L66.80,189.21 L67.30,196.62 L67.80,204.52 L68.30,212.73 L68.80,221.05 L69.30,229.25 L69.80,237.07 L70.30,244.25 L70.80,250.51 L71.30,255.62 L71.80,259.39 L72.30,261.64 L72.80,262.29 L73.30,261.31 L73.80,258.75 L74.30,254.70 L74.80,249.34 L75.30,242.88 L75.80,235.55 L76.30,227.64 L76.80,219.39 L77.30,211.07 L77.80,202.91 L78.30,195.10 L78.80,187.79 L79.30,181.10 L79.80,175.11 L80.30,169.84 L80.80,165.29 L81.30,161.43 L81.80,158.22 L82.30,155.60 L82.80,153.49 L83.30,151.82 L83.80,150.52 L84.30,149.53 L84.80,148.78 L85.30,148.23 L85.80,147.82 L86.30,147.53 L86.80,147.33 L87.30,147.19 L87.80,147.09 L88.30,147.02 L88.80,146.98 L89.30,146.95 L89.80,146.93 L90.30,146.92 L90.80,146.91 L91.30,146.91 L91.80,146.90 L92.30,146.90 L92.80,146.90 L93.30,146.90 L93.80,146.90 L94.30,146.90 L94.80,146.90 L95.30,146.90 L95.80,146.90 L96.30,146.90 L96.80,146.90 L97.30,146.90 L97.80,146.90 L98.30,146.90 L98.80,146.90 L99.30,146.90 L99.80,146.90 L100.30,146.90 L100.80,146.90 L101.30,146.90 L101.80,146.90 L102.30,146.90 L102.80,146.90 L103.30,146.90 L103.80,146.90 L104.30,146.90 L104.80,146.90 L105.30,146.90 L105.80,146.90 L106.30,146.90 L106.80,146.90 L107.30,146.90 L107.80,146.90 L108.30,146.90 L108.80,146.90 L109.30,146.90 L109.80,146.90 L110.30,146.90 L110.80,146.90 L111.30,146.90 L111.80,146.90 L112.30,146.90 L112.80,146.90 L113.30,146.90 L113.80,146.90 L114.30,146.90 L114.80,146.90 L115.30,146.90 L115.80,146.90 L116.30,146.90 L116.80,146.90 L117.30,146.90 L117.80,146.90 L118.30,146.90 L118.80,146.90 L119.30,146.90 L119.80,146.90 L120.30,146.90 L120.80,146.90 L121.30,146.90 L121.80,146.90 L122.30,146.90 L122.80,146.90 L123.30,146.90 L123.80,146.90 L124.30,146.90 L124.80,146.90 L125.30,146.90 L125.80,146.90 L126.30,146.90 L126.80,146.90 L127.30,146.90 L127.80,146.90 L128.30,146.90 L128.80,146.90 L129.30,146.90 L129.80,146.90 L130.30,146.90 L130.80,146.90 L131.30,146.90 L131.80,146.90 L132.30,146.90 L132.80,146.90 L133.30,146.90 L133.80,146.90 L134.30,146.90 L134.80,146.90 L135.30,146.90 L135.80,146.90 L136.30,146.90 L136.80,146.90 L137.30,146.90 L137.80,146.90 L138.30,146.90 L138.80,146.90 L139.30,146.90 L139.80,146.90 L140.30,146.90 L140.80,146.90 L141.30,146.90 L141.80,146.90 L142.30,146.90 L142.80,146.90 L143.30,146.90 L143.80,146.90 L144.30,146.90 L144.80,146.90 L145.30,146.90 L145.80,146.90 L146.30,146.90 L146.80,146.90 L147.30,146.90 L147.80,146.90 L148.30,146.90 L148.80,146.90 L149.30,146.90 L149.80,146.90 L150.30,146.90 L150.80,146.90 L151.30,146.90 L151.80,146.90 L152.30,146.90 L152.80,146.90 L153.30,146.90 L153.80,146.90 L154.30,146.90 L154.80,146.90 L155.30,146.90 L155.80,146.90 L156.30,146.90 L156.80,146.90 L157.30,146.90 L157.80,146.90 L158.30,146.90 L158.80,146.90 L159.30,146.90 L159.80,146.90 L160.30,146.90 L160.80,146.90 L161.30,146.90 L161.80,146.90 L162.30,146.90 L162.80,146.90 L163.30,146.90 L163.80,146.90 L164.30,146.90 L164.80,146.90 L165.30,146.90 L165.80,146.90 L166.30,146.90 L166.80,146.90 L167.30,146.90 L167.80,146.90 L168.30,146.90 L168.80,146.90 L169.30,146.90 L169.80,146.90 L170.30,146.90 L170.80,146.90 L171.30,146.90 L171.80,146.90 L172.30,146.90 L172.80,146.90 L173.30,146.90 L173.80,146.90 L174.30,146.90 L174.80,146.90 L175.30,146.90 L175.80,146.90 L176.30,146.90 L176.80,146.90 L177.30,146.90 L177.80,146.90 L178.30,146.90 L178.80,146.90 L179.30,146.90 L179.80,146.90 L180.30,146.90 L180.80,146.90 L181.30,146.90 L181.80,146.90 L182.30,146.90 L182.80,146.91 L183.30,146.91 L183.80,146.92 L184.30,146.93 L184.80,146.95 L185.30,146.98 L185.80,147.03 L186.30,147.10 L186.80,147.20 L187.30,147.35 L187.80,147.56 L188.30,147.86 L188.80,148.28 L189.30,148.85 L189.80,149.62 L190.30,150.64 L190.80,151.97 L191.30,153.68 L191.80,155.84 L192.30,158.52 L192.80,161.79 L193.30,165.71 L193.80,170.33 L194.30,175.68 L194.80,181.74 L195.30,188.50 L195.80,195.86 L196.30,203.71 L196.80,211.90 L197.30,220.22 L197.80,228.45 L198.30,236.32 L198.80,243.56 L199.30,249.93 L199.80,255.17 L200.30,259.07 L200.80,261.49 L201.30,262.30 L201.80,261.49 L202.30,259.07 L202.80,255.17 L203.30,249.93 L203.80,243.56 L204.30,236.32 L204.80,228.45 L205.30,220.22 L205.80,211.90 L206.30,203.71 L206.80,195.86 L207.30,188.50 L207.80,181.74 L208.30,175.68 L208.80,170.33 L209.30,165.71 L209.80,161.79 L210.30,158.52 L210.80,155.84 L211.30,153.68 L211.80,151.97 L212.30,150.64 L212.80,149.62 L213.30,148.85 L213.80,148.28 L214.30,147.86 L214.80,147.56 L215.30,147.35 L215.80,147.20 L216.30,147.10 L216.80,147.03 L217.30,146.98 L217.80,146.95 L218.30,146.93 L218.80,146.92 L219.30,146.91 L219.80,146.91 L220.30,146.90 L220.80,146.90 L221.30,146.90 L221.80,146.90 L222.30,146.90 L222.80,146.90 L223.30,146.90 L223.80,146.90 L224.30,146.90 L224.80,146.90 L225.30,146.90 L225.80,146.90 L226.30,146.90 L226.80,146.90 L227.30,146.90 L227.80,146.90 L228.30,146.90 L228.80,146.90 L229.30,146.90 L229.80,146.90 L230.30,146.90 L230.80,146.90 L231.30,146.90 L231.80,146.90 L232.30,146.90 L232.80,146.90 L233.30,146.90 L233.80,146.90 L234.30,146.90 L234.80,146.90 L235.30,146.90 L235.80,146.90 L236.30,146.90 L236.80,146.90 L237.30,146.90 L237.80,146.90 L238.30,146.90 L238.80,146.90 L239.30,146.90 L239.80,146.90 L240.30,146.90 L240.80,146.90 L241.30,146.90 L241.80,146.90 L242.30,146.90" stroke="#4c9fb6" stroke-width="1.65"/>
<path d="M308.50,9.90 L308.75,9.90 L309.00,9.90 L309.25,9.90 L309.50,9.90 L309.75,9.90 L310.00,9.90 L310.25,9.90 L310.50,9.90 L310.75,9.90 L311.00,9.90 L311.25,9.90 L311.50,9.90 L311.75,9.90 L312.00,9.90 L312.25,9.90 L312.50,9.90 L312.75,9.90 L313.00,9.90 L313.25,9.90 L313.50,9.90 L313.75,9.90 L314.00,9.90 L314.25,9.90 L314.50,9.90 L314.75,9.90 L315.00,9.90 L315.25,9.90 L315.50,9.90 L315.75,9.90 L316.00,9.90 L316.25,9.90 L316.50,9.90 L316.75,9.90 L317.00,9.90 L317.25,9.90 L317.50,9.90 L317.75,9.90 L318.00,9.90 L318.25,9.90 L318.50,9.90 L318.75,9.90 L319.00,9.90 L319.25,9.90 L319.50,9.90 L319.75,9.90 L320.00,9.90 L320.25,9.90 L320.50,9.90 L320.75,9.90 L321.00,9.90 L321.25,9.91 L321.50,9.91 L321.75,9.91 L322.00,9.91 L322.25,9.92 L322.50,9.92 L322.75,9.93 L323.00,9.93 L323.25,9.94 L323.50,9.94 L323.75,9.95 L324.00,9.95 L324.25,9.96 L324.50,9.98 L324.75,10.00 L325.00,10.03 L325.25,10.06 L325.50,10.10 L325.75,10.15 L326.00,10.19 L326.25,10.25 L326.50,10.30 L326.75,10.36 L327.00,10.43 L327.25,10.52 L327.50,10.65 L327.75,10.81 L328.00,10.99 L328.25,11.20 L328.50,11.43 L328.75,11.68 L329.00,11.95 L329.25,12.24 L329.50,12.56 L329.75,12.95 L330.00,13.41 L330.25,13.94 L330.50,14.56 L330.75,15.25 L331.00,16.07 L331.25,17.12 L331.50,18.40 L331.75,19.89 L332.00,21.60 L332.25,23.81 L332.50,26.67 L332.75,30.01 L333.00,34.13 L333.25,38.98 L333.50,44.50 L333.75,50.90 L334.00,57.67 L334.25,64.31 L334.50,70.34 L334.75,76.05 L335.00,81.57 L335.25,86.89 L335.50,92.05 L335.75,97.12 L336.00,101.92 L336.25,106.22 L336.50,110.26 L336.75,113.78 L337.00,116.30 L337.25,118.41 L337.50,120.25 L337.75,121.74 L338.00,122.81 L338.25,123.47 L338.50,124.05 L338.75,124.58 L339.00,125.06 L339.25,125.47 L339.50,125.82 L339.75,126.09 L340.00,126.28 L340.25,126.38 L340.50,126.40 L340.75,126.34 L341.00,126.23 L341.25,126.08 L341.50,125.88 L341.75,125.64 L342.00,125.37 L342.25,125.08 L342.50,124.76 L342.75,124.43 L343.00,124.09 L343.25,123.75 L343.50,123.41 L343.75,123.04 L344.00,122.60 L344.25,122.10 L344.50,121.56 L344.75,120.98 L345.00,120.37 L345.25,119.75 L345.50,119.12 L345.75,118.49 L346.00,117.88 L346.25,117.29 L346.50,116.73 L346.75,116.19 L347.00,115.65 L347.25,115.12 L347.50,114.59 L347.75,114.06 L348.00,113.53 L348.25,113.01 L348.50,112.49 L348.75,111.97 L349.00,111.45 L349.25,110.94 L349.50,110.43 L349.75,109.92 L350.00,109.41 L350.25,108.91 L350.50,108.41 L350.75,107.91 L351.00,107.41 L351.25,106.92 L351.50,106.43 L351.75,105.94 L352.00,105.45 L352.25,104.97 L352.50,104.48 L352.75,104.01 L353.00,103.53 L353.25,103.05 L353.50,102.58 L353.75,102.11 L354.00,101.64 L354.25,101.17 L354.50,100.71 L354.75,100.25 L355.00,99.79 L355.25,99.33 L355.50,98.88 L355.75,98.43 L356.00,97.97 L356.25,97.53 L356.50,97.08 L356.75,96.64 L357.00,96.19 L357.25,95.75 L357.50,95.32 L357.75,94.88 L358.00,94.45 L358.25,94.01 L358.50,93.59 L358.75,93.16 L359.00,92.73 L359.25,92.31 L359.50,91.89 L359.75,91.47 L360.00,91.05 L360.25,90.63 L360.50,90.22 L360.75,89.81 L361.00,89.40 L361.25,88.99 L361.50,88.59 L361.75,88.18 L362.00,87.78 L362.25,87.38 L362.50,86.98 L362.75,86.59 L363.00,86.19 L363.25,85.80 L363.50,85.41 L363.75,85.02 L364.00,84.63 L364.25,84.25 L364.50,83.86 L364.75,83.48 L365.00,83.10 L365.25,82.72 L365.50,82.35 L365.75,81.97 L366.00,81.60 L366.25,81.23 L366.50,80.86 L366.75,80.49 L367.00,80.12 L367.25,79.76 L367.50,79.39 L367.75,79.03 L368.00,78.67 L368.25,78.32 L368.50,77.96 L368.75,77.61 L369.00,77.25 L369.25,76.90 L369.50,76.55 L369.75,76.20 L370.00,75.86 L370.25,75.51 L370.50,75.17 L370.75,74.83 L371.00,74.49 L371.25,74.15 L371.50,73.81 L371.75,73.47 L372.00,73.14 L372.25,72.81 L372.50,72.48 L372.75,72.15 L373.00,71.82 L373.25,71.49 L373.50,71.17 L373.75,70.84 L374.00,70.52 L374.25,70.20 L374.50,69.88 L374.75,69.56 L375.00,69.25 L375.25,68.93 L375.50,68.62 L375.75,68.30 L376.00,67.99 L376.25,67.68 L376.50,67.38 L376.75,67.07 L377.00,66.76 L377.25,66.46 L377.50,66.16 L377.75,65.86 L378.00,65.56 L378.25,65.26 L378.50,64.96 L378.75,64.66 L379.00,64.37 L379.25,64.07 L379.50,63.78 L379.75,63.49 L380.00,63.20 L380.25,62.91 L380.50,62.63 L380.75,62.34 L381.00,62.05 L381.25,61.77 L381.50,61.49 L381.75,61.21 L382.00,60.93 L382.25,60.65 L382.50,60.37 L382.75,60.10 L383.00,59.82 L383.25,59.55 L383.50,59.28 L383.75,59.00 L384.00,58.73 L384.25,58.46 L384.50,58.20 L384.75,57.93 L385.00,57.66 L385.25,57.40 L385.50,57.14 L385.75,56.87 L386.00,56.61 L386.25,56.35 L386.50,56.09 L386.75,55.84 L387.00,55.58 L387.25,55.32 L387.50,55.07 L387.75,54.81 L388.00,54.56 L388.25,54.31 L388.50,54.06 L388.75,53.81 L389.00,53.56 L389.25,53.32 L389.50,53.07 L389.75,52.82 L390.00,52.58 L390.25,52.34 L390.50,52.10 L390.75,51.85 L391.00,51.61 L391.25,51.37 L391.50,51.14 L391.75,50.90 L392.00,50.66 L392.25,50.43 L392.50,50.19 L392.75,49.96 L393.00,49.73 L393.25,49.50 L393.50,49.27 L393.75,49.04 L394.00,48.81 L394.25,48.58 L394.50,48.35 L394.75,48.13 L395.00,47.90 L395.25,47.68 L395.50,47.46 L395.75,47.23 L396.00,47.01 L396.25,46.79 L396.50,46.57 L396.75,46.35 L397.00,46.14 L397.25,45.92 L397.50,45.70 L397.75,45.49 L398.00,45.27 L398.25,45.06 L398.50,44.85 L398.75,44.64 L399.00,44.43 L399.25,44.21 L399.50,44.01 L399.75,43.80 L400.00,43.59 L400.25,43.38 L400.50,43.18 L400.75,42.97 L401.00,42.77 L401.25,42.56 L401.50,42.36 L401.75,42.16 L402.00,41.96 L402.25,41.76 L402.50,41.56 L402.75,41.36 L403.00,41.16 L403.25,40.96 L403.50,40.77 L403.75,40.57 L404.00,40.37 L404.25,40.18 L404.50,39.99 L404.75,39.79 L405.00,39.60 L405.25,39.41 L405.50,39.22 L405.75,39.03 L406.00,38.84 L406.25,38.65 L406.50,38.46 L406.75,38.28 L407.00,38.09 L407.25,37.90 L407.50,37.72 L407.75,37.53 L408.00,37.35 L408.25,37.17 L408.50,36.99 L408.75,36.80 L409.00,36.62 L409.25,36.44 L409.50,36.26 L409.75,36.08 L410.00,35.91 L410.25,35.73 L410.50,35.55 L410.75,35.37 L411.00,35.20 L411.25,35.02 L411.50,34.85 L411.75,34.67 L412.00,34.50 L412.25,34.33 L412.50,34.16 L412.75,33.99 L413.00,33.81 L413.25,33.64 L413.50,33.47 L413.75,33.31 L414.00,33.14 L414.25,32.97 L414.50,32.80 L414.75,32.64 L415.00,32.47 L415.25,32.30 L415.50,32.14 L415.75,31.98 L416.00,31.81 L416.25,31.65 L416.50,31.49 L416.75,31.32 L417.00,31.16 L417.25,31.00 L417.50,30.84 L417.75,30.68 L418.00,30.52 L418.25,30.36 L418.50,30.21 L418.75,30.05 L419.00,29.89 L419.25,29.73 L419.50,29.58 L419.75,29.42 L420.00,29.27 L420.25,29.11 L420.50,28.96 L420.75,28.81 L421.00,28.65 L421.25,28.50 L421.50,28.35 L421.75,28.20 L422.00,28.05 L422.25,27.90 L422.50,27.75 L422.75,27.60 L423.00,27.45 L423.25,27.30 L423.50,27.15 L423.75,27.01 L424.00,26.86 L424.25,26.71 L424.50,26.57 L424.75,26.42 L425.00,26.28 L425.25,26.13 L425.50,25.99 L425.75,25.84 L426.00,25.70 L426.25,25.56 L426.50,25.41 L426.75,25.27 L427.00,25.13 L427.25,24.99 L427.50,24.85 L427.75,24.71 L428.00,24.57 L428.25,24.43 L428.50,24.29 L428.75,24.15 L429.00,24.02 L429.25,23.88 L429.50,23.74 L429.75,23.61 L430.00,23.47 L430.25,23.33 L430.50,23.20 L430.75,23.06 L431.00,22.93 L431.25,22.80 L431.50,22.66 L431.75,22.53 L432.00,22.40 L432.25,22.26 L432.50,22.13 L432.75,22.00 L433.00,21.87 L433.25,21.74 L433.50,21.61 L433.75,21.48 L434.00,21.35 L434.25,21.22 L434.50,21.09 L434.75,20.96 L435.00,20.83 L435.25,20.70 L435.50,20.58 L435.75,20.45 L436.00,20.32 L436.25,20.20 L436.50,20.07 L436.75,19.94 L437.00,19.82 L437.25,19.69 L437.50,19.57 L437.75,19.45 L438.00,19.32 L438.25,19.20 L438.50,19.08 L438.75,18.95 L439.00,18.83 L439.25,18.71 L439.50,18.59 L439.75,18.46 L440.00,18.34 L440.25,18.22 L440.50,18.10 L440.75,17.98 L441.00,17.86 L441.25,17.74 L441.50,17.62 L441.75,17.51 L442.00,17.39 L442.25,17.27 L442.50,17.15 L442.75,17.03 L443.00,16.92 L443.25,16.80 L443.50,16.68 L443.75,16.57 L444.00,16.45 L444.25,16.33 L444.50,16.22 L444.75,16.10 L445.00,15.99 L445.25,15.88 L445.50,15.76 L445.75,15.65 L446.00,15.54 L446.25,15.42 L446.50,15.31 L446.75,15.20 L447.00,15.09 L447.25,14.98 L447.50,14.87 L447.75,14.76 L448.00,14.65 L448.25,14.53 L448.50,14.41 L448.75,14.30 L449.00,14.17 L449.25,14.05 L449.50,13.92 L449.75,13.79 L450.00,13.66 L450.25,13.53 L450.50,13.39 L450.75,13.26 L451.00,13.12 L451.25,12.99 L451.50,12.85 L451.75,12.71 L452.00,12.58 L452.25,12.45 L452.50,12.31 L452.75,12.18 L453.00,12.05 L453.25,11.93 L453.50,11.81 L453.75,11.69 L454.00,11.57 L454.25,11.46 L454.50,11.35 L454.75,11.25 L455.00,11.15 L455.25,11.05 L455.50,10.96 L455.75,10.87 L456.00,10.78 L456.25,10.68 L456.50,10.59 L456.75,10.49 L457.00,10.40 L457.25,10.31 L457.50,10.23 L457.75,10.15 L458.00,10.08 L458.25,10.02 L458.50,9.97 L458.75,9.94 L459.00,9.91 L459.25,9.90 L459.50,9.90 L459.75,9.91 L460.00,9.92 L460.25,9.94 L460.50,9.96 L460.75,9.98 L461.00,10.01 L461.25,10.05 L461.50,10.09 L461.75,10.13 L462.00,10.17 L462.25,10.22 L462.50,10.27 L462.75,10.32 L463.00,10.38 L463.25,10.44 L463.50,10.53 L463.75,10.64 L464.00,10.77 L464.25,10.93 L464.50,11.10 L464.75,11.29 L465.00,11.50 L465.25,11.73 L465.50,11.97 L465.75,12.22 L466.00,12.48 L466.25,12.76 L466.50,13.06 L466.75,13.42 L467.00,13.82 L467.25,14.28 L467.50,14.78 L467.75,15.34 L468.00,15.94 L468.25,16.62 L468.50,17.46 L468.75,18.44 L469.00,19.54 L469.25,20.75 L469.50,22.03 L469.75,23.37 L470.00,24.84 L470.25,26.48 L470.50,28.32 L470.75,30.36 L471.00,32.77 L471.25,35.66 L471.50,38.76 L471.75,41.89 L472.00,45.18 L472.25,48.57 L472.50,51.99 L472.75,55.35 L473.00,58.45 L473.25,61.27 L473.50,64.19 L473.75,67.58 L474.00,71.98 L474.25,78.52 L474.50,85.97 L474.75,92.62 L475.00,97.82 L475.25,102.84 L475.50,107.50 L475.75,111.58 L476.00,114.84 L476.25,117.07 L476.50,118.87 L476.75,120.55 L477.00,122.08 L477.25,123.41 L477.50,124.49 L477.75,125.30 L478.00,125.78 L478.25,125.90 L478.50,125.86 L478.75,125.77 L479.00,125.62 L479.25,125.43 L479.50,125.21 L479.75,124.94 L480.00,124.65 L480.25,124.32 L480.50,123.98 L480.75,123.61 L481.00,123.24 L481.25,122.85 L481.50,122.45 L481.75,122.06 L482.00,121.67 L482.25,121.29 L482.50,120.87 L482.75,120.40 L483.00,119.89 L483.25,119.35 L483.50,118.78 L483.75,118.19 L484.00,117.59 L484.25,116.99 L484.50,116.39 L484.75,115.80 L485.00,115.23 L485.25,114.69 L485.50,114.16 L485.75,113.64 L486.00,113.11 L486.25,112.59 L486.50,112.07 L486.75,111.55 L487.00,111.04 L487.25,110.53 L487.50,110.02 L487.75,109.51 L488.00,109.01 L488.25,108.51 L488.50,108.01 L488.75,107.51 L489.00,107.02 L489.25,106.53 L489.50,106.04 L489.75,105.55 L490.00,105.06 L490.25,104.58 L490.50,104.10 L490.75,103.62 L491.00,103.15 L491.25,102.67 L491.50,102.20 L491.75,101.73 L492.00,101.27 L492.25,100.80 L492.50,100.34 L492.75,99.88 L493.00,99.42 L493.25,98.97 L493.50,98.52 L493.75,98.06 L494.00,97.62 L494.25,97.17 L494.50,96.72 L494.75,96.28 L495.00,95.84 L495.25,95.40 L495.50,94.97 L495.75,94.53 L496.00,94.10 L496.25,93.67 L496.50,93.24 L496.75,92.82 L497.00,92.39 L497.25,91.97 L497.50,91.55 L497.75,91.13 L498.00,90.72 L498.25,90.30 L498.50,89.89 L498.75,89.48 L499.00,89.07 L499.25,88.67 L499.50,88.26 L499.75,87.86 L500.00,87.46 L500.25,87.06 L500.50,86.66 L500.75,86.27 L501.00,85.88 L501.25,85.49 L501.50,85.10 L501.75,84.71 L502.00,84.32 L502.25,83.94 L502.50,83.56 L502.75,83.18 L503.00,82.80 L503.25,82.42 L503.50,82.05 L503.75,81.67 L504.00,81.30 L504.25,80.93 L504.50,80.56 L504.75,80.20 L505.00,79.83 L505.25,79.47 L505.50,79.11 L505.75,78.75 L506.00,78.39 L506.25,78.03 L506.50,77.68 L506.75,77.32 L507.00,76.97 L507.25,76.62 L507.50,76.27 L507.75,75.93 L508.00,75.58 L508.25,75.24 L508.50,74.89 L508.75,74.55 L509.00,74.21 L509.25,73.88 L509.50,73.54 L509.75,73.21 L510.00,72.87 L510.25,72.54 L510.50,72.21 L510.75,71.88 L511.00,71.56 L511.25,71.23 L511.50,70.91 L511.75,70.58 L512.00,70.26 L512.25,69.94 L512.50,69.63 L512.75,69.31 L513.00,68.99 L513.25,68.68 L513.50,68.37 L513.75,68.06 L514.00,67.75 L514.25,67.44 L514.50,67.13 L514.75,66.82 L515.00,66.52 L515.25,66.22 L515.50,65.92 L515.75,65.61 L516.00,65.32 L516.25,65.02 L516.50,64.72 L516.75,64.43 L517.00,64.13 L517.25,63.84 L517.50,63.55 L517.75,63.26 L518.00,62.97 L518.25,62.68 L518.50,62.40 L518.75,62.11 L519.00,61.83 L519.25,61.55 L519.50,61.27" stroke="#4c9fb6" stroke-width="1.65"/>
<path d="M305.80,180.40 L306.30,180.40 L306.80,180.40 L307.30,180.40 L307.80,180.40 L308.30,180.40 L308.80,180.40 L309.30,180.40 L309.80,180.40 L310.30,180.40 L310.80,180.40 L311.30,180.40 L311.80,180.40 L312.30,180.40 L312.80,180.40 L313.30,180.40 L313.80,180.40 L314.30,180.40 L314.80,180.40 L315.30,180.40 L315.80,180.40 L316.30,180.40 L316.80,180.40 L317.30,180.40 L317.80,180.40 L318.30,180.40 L318.80,180.40 L319.30,180.40 L319.80,180.40 L320.30,180.40 L320.80,180.40 L321.30,180.40 L321.80,180.40 L322.30,180.40 L322.80,180.40 L323.30,180.40 L323.80,180.40 L324.30,180.40 L324.80,180.40 L325.30,180.40 L325.80,180.40 L326.30,180.40 L326.80,180.40 L327.30,180.41 L327.80,180.41 L328.30,180.42 L328.80,180.42 L329.30,180.44 L329.80,180.45 L330.30,180.48 L330.80,180.51 L331.30,180.55 L331.80,180.62 L332.30,180.70 L332.80,180.82 L333.30,180.97 L333.80,181.16 L334.30,181.42 L334.80,181.74 L335.30,182.15 L335.80,182.65 L336.30,183.27 L336.80,184.02 L337.30,184.91 L337.80,185.97 L338.30,187.20 L338.80,188.62 L339.30,190.22 L339.80,192.00 L340.30,193.97 L340.80,196.09 L341.30,198.35 L341.80,200.71 L342.30,203.14 L342.80,205.58 L343.30,207.98 L343.80,210.29 L344.30,212.44 L344.80,214.37 L345.30,216.03 L345.80,217.37 L346.30,218.35 L346.80,218.93 L347.30,219.10 L347.80,218.85 L348.30,218.19 L348.80,217.13 L349.30,215.73 L349.80,214.01 L350.30,212.03 L350.80,209.84 L351.30,207.51 L351.80,205.09 L352.30,202.65 L352.80,200.23 L353.30,197.89 L353.80,195.65 L354.30,193.56 L354.80,191.63 L355.30,189.88 L355.80,188.32 L356.30,186.94 L356.80,185.75 L357.30,184.72 L357.80,183.86 L358.30,183.13 L358.80,182.54 L359.30,182.06 L359.80,181.67 L360.30,181.36 L360.80,181.12 L361.30,180.93 L361.80,180.79 L362.30,180.68 L362.80,180.60 L363.30,180.54 L363.80,180.50 L364.30,180.47 L364.80,180.45 L365.30,180.43 L365.80,180.42 L366.30,180.41 L366.80,180.41 L367.30,180.41 L367.80,180.40 L368.30,180.40 L368.80,180.40 L369.30,180.40 L369.80,180.40 L370.30,180.40 L370.80,180.40 L371.30,180.40 L371.80,180.40 L372.30,180.40 L372.80,180.40 L373.30,180.40 L373.80,180.40 L374.30,180.40 L374.80,180.40 L375.30,180.40 L375.80,180.40 L376.30,180.40 L376.80,180.40 L377.30,180.40 L377.80,180.40 L378.30,180.40 L378.80,180.40 L379.30,180.40 L379.80,180.40 L380.30,180.40 L380.80,180.40 L381.30,180.40 L381.80,180.40 L382.30,180.40 L382.80,180.40 L383.30,180.40 L383.80,180.40 L384.30,180.40 L384.80,180.40 L385.30,180.40 L385.80,180.40 L386.30,180.40 L386.80,180.40 L387.30,180.40 L387.80,180.40 L388.30,180.40 L388.80,180.40 L389.30,180.40 L389.80,180.40 L390.30,180.40 L390.80,180.40 L391.30,180.40 L391.80,180.40 L392.30,180.40 L392.80,180.40 L393.30,180.40 L393.80,180.40 L394.30,180.40 L394.80,180.40 L395.30,180.40 L395.80,180.40 L396.30,180.40 L396.80,180.40 L397.30,180.40 L397.80,180.40 L398.30,180.40 L398.80,180.40 L399.30,180.40 L399.80,180.40 L400.30,180.40 L400.80,180.40 L401.30,180.40 L401.80,180.40 L402.30,180.40 L402.80,180.40 L403.30,180.40 L403.80,180.40 L404.30,180.40 L404.80,180.40 L405.30,180.40 L405.80,180.40 L406.30,180.40 L406.80,180.40 L407.30,180.40 L407.80,180.40 L408.30,180.40 L408.80,180.40 L409.30,180.40 L409.80,180.40 L410.30,180.40 L410.80,180.40 L411.30,180.40 L411.80,180.40 L412.30,180.40 L412.80,180.40 L413.30,180.40 L413.80,180.40 L414.30,180.40 L414.80,180.40 L415.30,180.40 L415.80,180.40 L416.30,180.40 L416.80,180.40 L417.30,180.40 L417.80,180.40 L418.30,180.40 L418.80,180.40 L419.30,180.40 L419.80,180.40 L420.30,180.40 L420.80,180.40 L421.30,180.40 L421.80,180.40 L422.30,180.40 L422.80,180.40 L423.30,180.40 L423.80,180.40 L424.30,180.40 L424.80,180.40 L425.30,180.40 L425.80,180.40 L426.30,180.40 L426.80,180.40 L427.30,180.40 L427.80,180.40 L428.30,180.40 L428.80,180.40 L429.30,180.40 L429.80,180.40 L430.30,180.40 L430.80,180.40 L431.30,180.40 L431.80,180.40 L432.30,180.40 L432.80,180.40 L433.30,180.40 L433.80,180.40 L434.30,180.40 L434.80,180.40 L435.30,180.40 L435.80,180.40 L436.30,180.40 L436.80,180.40 L437.30,180.40 L437.80,180.40 L438.30,180.40 L438.80,180.40 L439.30,180.40 L439.80,180.40 L440.30,180.40 L440.80,180.40 L441.30,180.40 L441.80,180.40 L442.30,180.40 L442.80,180.40 L443.30,180.40 L443.80,180.40 L444.30,180.40 L444.80,180.40 L445.30,180.40 L445.80,180.40 L446.30,180.40 L446.80,180.40 L447.30,180.40 L447.80,180.40 L448.30,180.40 L448.80,180.40 L449.30,180.40 L449.80,180.40 L450.30,180.40 L450.80,180.40 L451.30,180.40 L451.80,180.40 L452.30,180.40 L452.80,180.40 L453.30,180.40 L453.80,180.40 L454.30,180.40 L454.80,180.40 L455.30,180.40 L455.80,180.41 L456.30,180.41 L456.80,180.42 L457.30,180.42 L457.80,180.43 L458.30,180.45 L458.80,180.47 L459.30,180.51 L459.80,180.55 L460.30,180.61 L460.80,180.69 L461.30,180.80 L461.80,180.95 L462.30,181.14 L462.80,181.39 L463.30,181.70 L463.80,182.10 L464.30,182.59 L464.80,183.20 L465.30,183.94 L465.80,184.82 L466.30,185.86 L466.80,187.07 L467.30,188.47 L467.80,190.05 L468.30,191.82 L468.80,193.76 L469.30,195.87 L469.80,198.12 L470.30,200.47 L470.80,202.90 L471.30,205.34 L471.80,207.75 L472.30,210.07 L472.80,212.23 L473.30,214.19 L473.80,215.88 L474.30,217.26 L474.80,218.27 L475.30,218.89 L475.80,219.10 L476.30,218.89 L476.80,218.27 L477.30,217.26 L477.80,215.88 L478.30,214.19 L478.80,212.23 L479.30,210.07 L479.80,207.75 L480.30,205.34 L480.80,202.90 L481.30,200.47 L481.80,198.12 L482.30,195.87 L482.80,193.76 L483.30,191.82 L483.80,190.05 L484.30,188.47 L484.80,187.07 L485.30,185.86 L485.80,184.82 L486.30,183.94 L486.80,183.20 L487.30,182.59 L487.80,182.10 L488.30,181.70 L488.80,181.39 L489.30,181.14 L489.80,180.95 L490.30,180.80 L490.80,180.69 L491.30,180.61 L491.80,180.55 L492.30,180.51 L492.80,180.47 L493.30,180.45 L493.80,180.43 L494.30,180.42 L494.80,180.42 L495.30,180.41 L495.80,180.41 L496.30,180.40 L496.80,180.40 L497.30,180.40 L497.80,180.40 L498.30,180.40 L498.80,180.40 L499.30,180.40 L499.80,180.40 L500.30,180.40 L500.80,180.40 L501.30,180.40 L501.80,180.40 L502.30,180.40 L502.80,180.40 L503.30,180.40 L503.80,180.40 L504.30,180.40 L504.80,180.40 L505.30,180.40 L505.80,180.40 L506.30,180.40 L506.80,180.40 L507.30,180.40 L507.80,180.40 L508.30,180.40 L508.80,180.40 L509.30,180.40 L509.80,180.40 L510.30,180.40 L510.80,180.40 L511.30,180.40 L511.80,180.40 L512.30,180.40 L512.80,180.40 L513.30,180.40 L513.80,180.40 L514.30,180.40 L514.80,180.40 L515.30,180.40 L515.80,180.40 L516.30,180.40 L516.80,180.40" stroke="#4c9fb6" stroke-width="1.65"/>
<line x1="305.3" y1="146.3" x2="518" y2="146.3" stroke="#9fb3cc" stroke-width="1.2" stroke-dasharray="2 1.9"/>
<line x1="304.8" y1="263.4" x2="518" y2="263.4" stroke="#9c9cc6" stroke-width="1.2" stroke-dasharray="2 1.9"/>
</g>
<g stroke="#7a7a7a" stroke-width="1.1" fill="none">
<line x1="30.15" y1="296" x2="30.75" y2="487.6"/>
<line x1="30.2" y1="487.25" x2="341.3" y2="486.9"/>
<line x1="348.3" y1="486.88" x2="512.5" y2="486.4"/>
</g>
<g stroke="#6a6a6a" stroke-width="0.9" fill="none">
<line x1="30.21" y1="316.5" x2="34.61" y2="316.5"/>
<line x1="30.29" y1="341.9" x2="34.69" y2="341.9"/>
<line x1="30.34" y1="357.4" x2="34.74" y2="357.4"/>
<line x1="30.38" y1="368.4" x2="34.78" y2="368.4"/>
<line x1="30.40" y1="375.8" x2="34.80" y2="375.8"/>
<line x1="30.42" y1="382.6" x2="34.82" y2="382.6"/>
<line x1="30.44" y1="388.6" x2="34.84" y2="388.6"/>
<line x1="30.45" y1="393.0" x2="34.85" y2="393.0"/>
<line x1="30.47" y1="397.6" x2="34.87" y2="397.6"/>
<line x1="30.48" y1="402.2" x2="34.88" y2="402.2"/>
<line x1="30.56" y1="427.6" x2="34.96" y2="427.6"/>
<line x1="30.61" y1="442.8" x2="35.01" y2="442.8"/>
<line x1="30.64" y1="453.1" x2="35.04" y2="453.1"/>
<line x1="30.67" y1="461.3" x2="35.07" y2="461.3"/>
<line x1="30.69" y1="468.2" x2="35.09" y2="468.2"/>
<line x1="30.71" y1="473.9" x2="35.11" y2="473.9"/>
<line x1="30.72" y1="478.6" x2="35.12" y2="478.6"/>
<line x1="30.74" y1="483.0" x2="35.14" y2="483.0"/>
<line x1="54.7" y1="487.21" x2="54.7" y2="483.01"/>
<line x1="78.5" y1="487.16" x2="78.5" y2="482.96"/>
<line x1="102.4" y1="487.12" x2="102.4" y2="482.92"/>
<line x1="126.5" y1="487.08" x2="126.5" y2="482.88"/>
<line x1="149.2" y1="487.04" x2="149.2" y2="482.84"/>
<line x1="172.3" y1="487.00" x2="172.3" y2="482.80"/>
<line x1="195.4" y1="486.96" x2="195.4" y2="482.76"/>
<line x1="218.0" y1="486.92" x2="218.0" y2="482.72"/>
<line x1="240.8" y1="486.88" x2="240.8" y2="482.68"/>
<line x1="263.6" y1="486.84" x2="263.6" y2="482.64"/>
<line x1="285.3" y1="486.80" x2="285.3" y2="482.60"/>
<line x1="307.5" y1="486.76" x2="307.5" y2="482.56"/>
<line x1="329.4" y1="486.72" x2="329.4" y2="482.52"/>
<line x1="355.3" y1="486.68" x2="355.3" y2="482.48"/>
<line x1="381.5" y1="486.63" x2="381.5" y2="482.43"/>
<line x1="405.9" y1="486.59" x2="405.9" y2="482.39"/>
<line x1="430.3" y1="486.54" x2="430.3" y2="482.34"/>
<line x1="454.9" y1="486.50" x2="454.9" y2="482.30"/>
<line x1="478.8" y1="486.46" x2="478.8" y2="482.26"/>
<line x1="503.3" y1="486.42" x2="503.3" y2="482.22"/>
</g>
<g stroke="#7a7a7a" stroke-width="1.2">
<line x1="338.3" y1="496.8" x2="345.3" y2="477.5"/>
<line x1="344.3" y1="496.3" x2="350.8" y2="477.8"/>
</g>
<path d="M30.1,292.4 L33.1,299.4 L30.2,297.6 L27.2,299.4 Z" fill="#1a1a1a"/>
<path d="M516.6,486.35 L510.5,484.1 L512.2,486.4 L510.5,488.7 Z" fill="#1a1a1a"/>
<ellipse cx="374.7" cy="425.85" rx="119.2" ry="3.7" transform="rotate(-24 374.7 425.85)" fill="#69bed7"/>
<ellipse cx="245.2" cy="327.4" rx="107.5" ry="3.6" fill="#2893b5" stroke="#1f7896" stroke-width="0.5"/>
<ellipse cx="131.65" cy="476.3" rx="62.75" ry="3.1" fill="#2893b5" stroke="#1f7896" stroke-width="0.5"/>
<ellipse cx="261.4" cy="439.3" rx="3.3" ry="40.2" fill="#2893b5" stroke="#1f7896" stroke-width="0.5"/>
<ellipse cx="273.7" cy="401.15" rx="3.5" ry="7.9" fill="#2a9ab8" stroke="#1f7896" stroke-width="0.5"/>
<circle cx="65.45" cy="443" r="3.4" fill="#2893b5" stroke="#1f7896" stroke-width="0.5"/>
<circle cx="355.4" cy="395.5" r="3.4" fill="#2c97ba" stroke="#1f7896" stroke-width="0.5"/>
<circle cx="367.2" cy="397.7" r="3.5" fill="#2c97ba" stroke="#1f7896" stroke-width="0.5"/>
<circle cx="418.2" cy="409.0" r="3.3" fill="#1e7896" stroke="#175f78" stroke-width="0.5"/>
<defs><radialGradient id="mxg" cx="0.6" cy="0.45" r="0.6"><stop offset="0" stop-color="#d6f2fb"/><stop offset="0.6" stop-color="#a6d6ea"/><stop offset="1" stop-color="#86b9d2"/></radialGradient></defs>
<polygon points="381.90,445.30 378.35,447.35 378.35,451.45 381.90,453.50 385.45,451.45 385.45,447.35" fill="url(#mxg)" stroke="#80aac4" stroke-width="0.6"/>
<line x1="333.3" y1="429.4" x2="348" y2="432.1" stroke="#222" stroke-width="0.9"/>
<path d="M351,432.6 L346.9,430.4 L346.3,433.6 Z" fill="#222"/>
<g font-family="Liberation Sans, Arial, sans-serif">
<text transform="translate(7.01,10.09) scale(1.0500,1)" font-size="11.90" font-weight="bold" fill="#111111" stroke="#111111" stroke-width="0.35">(a)</text>
<text transform="translate(284.01,9.39) scale(1.0500,1)" font-size="11.90" font-weight="bold" fill="#111111" stroke="#111111" stroke-width="0.35">(b)</text>
<text transform="translate(7.21,145.29) scale(1.0500,1)" font-size="11.90" font-weight="bold" fill="#111111" stroke="#111111" stroke-width="0.35">(c)</text>
<text transform="translate(283.51,144.59) scale(1.0500,1)" font-size="11.90" font-weight="bold" fill="#111111" stroke="#111111" stroke-width="0.35">(d)</text>
<text transform="translate(7.36,287.29) scale(1.0500,1)" font-size="11.90" font-weight="bold" fill="#111111" stroke="#111111" stroke-width="0.35">(e)</text>
<text transform="translate(14.40,23.95) scale(0.9780,1)" font-size="13.24" fill="#4d9fb8" stroke="#4d9fb8" stroke-width="0.15">Losses</text>
<text transform="translate(18.62,63.22) scale(0.9780,1)" font-size="13.24" fill="#eca68a" stroke="#eca68a" stroke-width="0.15">Gain</text>
<text transform="translate(18.47,121.85) scale(0.9780,1)" font-size="13.24" fill="#4a5896" stroke="#4a5896" stroke-width="0.15">Power</text>
<text transform="translate(283.55,24.15) scale(0.9780,1)" font-size="13.24" fill="#4d9fb8" stroke="#4d9fb8" stroke-width="0.15">Losses</text>
<text transform="translate(295.52,63.52) scale(0.9780,1)" font-size="13.24" fill="#eca68a" stroke="#eca68a" stroke-width="0.15">Gain</text>
<text transform="translate(290.07,122.00) scale(0.9780,1)" font-size="13.24" fill="#4a5896" stroke="#4a5896" stroke-width="0.15">Power</text>
<text transform="translate(14.35,160.90) scale(0.9780,1)" font-size="13.24" fill="#4d9fb8" stroke="#4d9fb8" stroke-width="0.15">Losses</text>
<text transform="translate(18.67,201.77) scale(0.9780,1)" font-size="13.24" fill="#eca68a" stroke="#eca68a" stroke-width="0.15">Gain</text>
<text transform="translate(13.37,258.40) scale(0.9780,1)" font-size="13.24" fill="#4a5896" stroke="#4a5896" stroke-width="0.15">Power</text>
<text transform="translate(279.55,174.55) scale(0.9780,1)" font-size="13.24" fill="#4d9fb8" stroke="#4d9fb8" stroke-width="0.15">Losses</text>
<text transform="translate(295.42,201.62) scale(0.9780,1)" font-size="13.24" fill="#eca68a" stroke="#eca68a" stroke-width="0.15">Gain</text>
<text transform="translate(272.87,235.30) scale(0.9780,1)" font-size="13.24" fill="#4a5896" stroke="#4a5896" stroke-width="0.15">Power</text>
<text transform="translate(151.58,341.65)" font-size="12.90" fill="#1a1a1a" stroke="#1a1a1a" stroke-width="0.30">InGaAs</text>
<text transform="translate(151.03,356.95)" font-size="12.90" fill="#1a1a1a" stroke="#1a1a1a" stroke-width="0.30">SESAM</text>
<text transform="translate(178.66,366.64)" font-size="9.40" fill="#5a6ea8" stroke="#5a6ea8" stroke-width="0.12">[87]</text>
<text transform="translate(43.91,416.54)" font-size="12.90" fill="#1a1a1a" stroke="#1a1a1a" stroke-width="0.30">InGaSb</text>
<text transform="translate(43.43,431.45)" font-size="12.90" fill="#1a1a1a" stroke="#1a1a1a" stroke-width="0.30">SESAM</text>
<text transform="translate(76.31,441.54)" font-size="9.40" fill="#5a6ea8" stroke="#5a6ea8" stroke-width="0.12">[89]</text>
<text transform="translate(112.16,468.30)" font-size="12.90" fill="#1a1a1a" stroke="#1a1a1a" stroke-width="0.30">graphene</text>
<text transform="translate(168.13,463.14)" font-size="9.40" fill="#5a6ea8" stroke="#5a6ea8" stroke-width="0.12">[95,96]</text>
<text transform="translate(237.15,393.68)" font-size="12.90" fill="#1a1a1a" stroke="#1a1a1a" stroke-width="0.30">BPb</text>
<text transform="translate(231.89,403.84)" font-size="9.40" fill="#5a6ea8" stroke="#5a6ea8" stroke-width="0.12">[110]</text>
<text transform="translate(232.25,414.54)" font-size="9.40" fill="#5a6ea8" stroke="#5a6ea8" stroke-width="0.12">[111]</text>
<text transform="translate(279.86,376.00)" font-size="12.90" fill="#1a1a1a" stroke="#1a1a1a" stroke-width="0.30">MoS</text>
<text transform="translate(308.13,379.40)" font-size="8.70" fill="#1a1a1a" stroke="#1a1a1a" stroke-width="0.25">2</text>
<text transform="translate(279.54,390.52)" font-size="12.90" fill="#1a1a1a" stroke="#1a1a1a" stroke-width="0.30">TMD</text>
<text transform="translate(278.55,400.34)" font-size="9.40" fill="#5a6ea8" stroke="#5a6ea8" stroke-width="0.12">[127]</text>
<text transform="translate(323.65,387.75)" font-size="12.90" fill="#1a1a1a" stroke="#1a1a1a" stroke-width="0.30">SWNT</text>
<text transform="translate(329.96,397.74)" font-size="9.40" fill="#5a6ea8" stroke="#5a6ea8" stroke-width="0.12">[99]</text>
<text transform="translate(367.42,393.65)" font-size="12.90" fill="#1a1a1a" stroke="#1a1a1a" stroke-width="0.30">GDY</text>
<text transform="translate(395.40,386.52)" font-size="9.40" fill="#5a6ea8" stroke="#5a6ea8" stroke-width="0.12">[143]</text>
<text transform="translate(395.40,397.84)" font-size="9.40" fill="#5a6ea8" stroke="#5a6ea8" stroke-width="0.12">[144]</text>
<text transform="translate(415.98,424.17)" font-size="12.90" fill="#1a1a1a" stroke="#1a1a1a" stroke-width="0.30">DWNT</text>
<text transform="translate(454.20,405.79)" font-size="9.40" fill="#5a6ea8" stroke="#5a6ea8" stroke-width="0.12">[107]</text>
<text transform="translate(454.20,416.99)" font-size="9.40" fill="#5a6ea8" stroke="#5a6ea8" stroke-width="0.12">[108]</text>
<text transform="translate(309.78,427.56)" font-size="12.90" fill="#1a1a1a" stroke="#1a1a1a" stroke-width="0.30">Bi</text>
<text transform="translate(319.88,433.95)" font-size="8.70" fill="#1a1a1a" stroke="#1a1a1a" stroke-width="0.25">2</text>
<text transform="translate(324.53,427.40)" font-size="12.90" fill="#1a1a1a" stroke="#1a1a1a" stroke-width="0.30">Se</text>
<text transform="translate(309.78,443.96)" font-size="12.90" fill="#1a1a1a" stroke="#1a1a1a" stroke-width="0.30">Bi</text>
<text transform="translate(321.08,450.15)" font-size="8.70" fill="#1a1a1a" stroke="#1a1a1a" stroke-width="0.25">2</text>
<text transform="translate(325.19,443.62)" font-size="12.90" fill="#1a1a1a" stroke="#1a1a1a" stroke-width="0.30">Te</text>
<text transform="translate(323.38,461.72)" font-size="12.90" fill="#1a1a1a" stroke="#1a1a1a" stroke-width="0.30">TI</text>
<text transform="translate(312.36,473.04)" font-size="9.40" fill="#5a6ea8" stroke="#5a6ea8" stroke-width="0.12">[119,120]</text>
<text transform="translate(386.46,448.90)" font-size="12.90" fill="#1a1a1a" stroke="#1a1a1a" stroke-width="0.30">MXENE</text>
<text transform="translate(431.35,446.64)" font-size="9.00" fill="#1a1a1a" stroke="#1a1a1a" stroke-width="0.30">*</text>
<text transform="translate(404.70,459.64)" font-size="9.40" fill="#5a6ea8" stroke="#5a6ea8" stroke-width="0.12">[132]</text>
<text transform="translate(224.30,516.18) scale(1.0375,1)" font-size="13.00" fill="#1a1a1a" stroke="#1a1a1a" stroke-width="0.25">Modulation depth</text>
<text transform="translate(15.34,320.30)" font-size="11.00" fill="#1a1a1a" stroke="#1a1a1a" stroke-width="0.25">10</text>
<text transform="translate(21.00,386.69)" font-size="11.00" fill="#1a1a1a" stroke="#1a1a1a" stroke-width="0.25">5</text>
<text transform="translate(21.48,406.20)" font-size="11.00" fill="#1a1a1a" stroke="#1a1a1a" stroke-width="0.25">1</text>
<text transform="translate(12.14,465.89)" font-size="11.00" fill="#1a1a1a" stroke="#1a1a1a" stroke-width="0.25">0.5</text>
<text transform="translate(21.44,491.99)" font-size="11.00" fill="#1a1a1a" stroke="#1a1a1a" stroke-width="0.25">0</text>
<text transform="translate(51.48,500.50)" font-size="11.00" fill="#1a1a1a" stroke="#1a1a1a" stroke-width="0.25">1</text>
<text transform="translate(75.44,500.55)" font-size="11.00" fill="#1a1a1a" stroke="#1a1a1a" stroke-width="0.25">2</text>
<text transform="translate(99.37,500.50)" font-size="11.00" fill="#1a1a1a" stroke="#1a1a1a" stroke-width="0.25">3</text>
<text transform="translate(123.48,500.55)" font-size="11.00" fill="#1a1a1a" stroke="#1a1a1a" stroke-width="0.25">4</text>
<text transform="translate(146.15,500.44)" font-size="11.00" fill="#1a1a1a" stroke="#1a1a1a" stroke-width="0.25">5</text>
<text transform="translate(169.21,500.50)" font-size="11.00" fill="#1a1a1a" stroke="#1a1a1a" stroke-width="0.25">6</text>
<text transform="translate(192.34,500.55)" font-size="11.00" fill="#1a1a1a" stroke="#1a1a1a" stroke-width="0.25">7</text>
<text transform="translate(214.95,500.50)" font-size="11.00" fill="#1a1a1a" stroke="#1a1a1a" stroke-width="0.25">8</text>
<text transform="translate(237.74,500.50)" font-size="11.00" fill="#1a1a1a" stroke="#1a1a1a" stroke-width="0.25">9</text>
<text transform="translate(257.29,500.50)" font-size="11.00" fill="#1a1a1a" stroke="#1a1a1a" stroke-width="0.25">10</text>
<text transform="translate(279.43,500.50)" font-size="11.00" fill="#1a1a1a" stroke="#1a1a1a" stroke-width="0.25">11</text>
<text transform="translate(301.24,500.55)" font-size="11.00" fill="#1a1a1a" stroke="#1a1a1a" stroke-width="0.25">12</text>
<text transform="translate(323.11,500.50)" font-size="11.00" fill="#1a1a1a" stroke="#1a1a1a" stroke-width="0.25">13</text>
<text transform="translate(351.69,500.50)" font-size="11.00" fill="#1a1a1a" stroke="#1a1a1a" stroke-width="0.25">40</text>
<text transform="translate(375.68,500.50)" font-size="11.00" fill="#1a1a1a" stroke="#1a1a1a" stroke-width="0.25">50</text>
<text transform="translate(400.03,500.50)" font-size="11.00" fill="#1a1a1a" stroke="#1a1a1a" stroke-width="0.25">60</text>
<text transform="translate(424.53,500.50)" font-size="11.00" fill="#1a1a1a" stroke="#1a1a1a" stroke-width="0.25">70</text>
<text transform="translate(448.97,500.50)" font-size="11.00" fill="#1a1a1a" stroke="#1a1a1a" stroke-width="0.25">80</text>
<text transform="translate(472.94,500.50)" font-size="11.00" fill="#1a1a1a" stroke="#1a1a1a" stroke-width="0.25">90</text>
<text transform="translate(494.71,500.50)" font-size="11.00" fill="#1a1a1a" stroke="#1a1a1a" stroke-width="0.25">100</text>
<text transform="translate(9.80,411.64) rotate(-90)" font-size="13.00" fill="#1a1a1a" stroke="#1a1a1a" stroke-width="0.25">Recovery time</text>
</g>
</svg>
</body></html>
